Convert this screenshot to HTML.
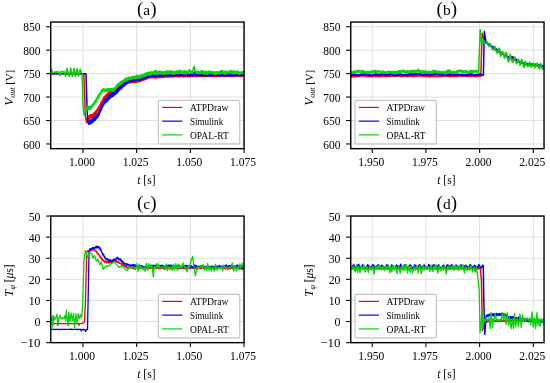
<!DOCTYPE html>
<html><head><meta charset="utf-8"><title>Figure</title>
<style>html,body{margin:0;padding:0;background:#fff;width:550px;height:383px;overflow:hidden}svg{display:block}</style>
</head><body>
<svg width="550" height="383" viewBox="0 0 550 383">
<style>
text{font-family:'Liberation Serif', 'DejaVu Serif', serif;fill:#000;stroke:none}
.tk{font-size:12.4px}
.lg{font-size:9.8px}
.lb{font-size:11.5px}
.tt{font-size:15.5px;stroke-width:0}
</style>
<rect width="550" height="383" fill="#fff"/>
<clipPath id="c00"><rect x="50.75" y="22.05" width="193.3" height="126.6"/></clipPath>
<line x1="82.97" y1="22.05" x2="82.97" y2="148.65" stroke="#dedede" stroke-width="1"/>
<line x1="136.66" y1="22.05" x2="136.66" y2="148.65" stroke="#dedede" stroke-width="1"/>
<line x1="190.36" y1="22.05" x2="190.36" y2="148.65" stroke="#dedede" stroke-width="1"/>
<line x1="244.05" y1="22.05" x2="244.05" y2="148.65" stroke="#dedede" stroke-width="1"/>
<line x1="50.75" y1="143.96" x2="244.05" y2="143.96" stroke="#dedede" stroke-width="1"/>
<line x1="50.75" y1="120.52" x2="244.05" y2="120.52" stroke="#dedede" stroke-width="1"/>
<line x1="50.75" y1="97.07" x2="244.05" y2="97.07" stroke="#dedede" stroke-width="1"/>
<line x1="50.75" y1="73.63" x2="244.05" y2="73.63" stroke="#dedede" stroke-width="1"/>
<line x1="50.75" y1="50.18" x2="244.05" y2="50.18" stroke="#dedede" stroke-width="1"/>
<line x1="50.75" y1="26.74" x2="244.05" y2="26.74" stroke="#dedede" stroke-width="1"/>
<path d="M50.75 73.8 L51.25 73.8 L51.75 73.8 L52.25 73.8 L52.75 73.8 L53.25 73.8 L53.75 73.8 L54.25 73.8 L54.75 73.8 L55.25 73.8 L55.75 73.8 L56.25 73.8 L56.75 73.8 L57.25 73.8 L57.75 73.8 L58.25 73.8 L58.75 73.8 L59.25 73.8 L59.75 73.8 L60.25 73.8 L60.75 73.8 L61.25 73.8 L61.75 73.8 L62.25 73.8 L62.75 73.8 L63.25 73.8 L63.75 73.8 L64.25 73.8 L64.75 73.8 L65.25 73.8 L65.75 73.8 L66.25 73.8 L66.75 73.8 L67.25 73.8 L67.75 73.8 L68.25 73.8 L68.75 73.8 L69.25 73.8 L69.75 73.8 L70.25 73.8 L70.75 73.8 L71.25 73.8 L71.75 73.8 L72.25 73.8 L72.75 73.8 L73.25 73.8 L73.75 73.8 L74.25 73.8 L74.75 73.8 L75.25 73.8 L75.75 73.8 L76.25 73.8 L76.75 73.8 L77.25 73.8 L77.75 73.8 L78.25 73.8 L78.75 73.8 L79.25 73.8 L79.75 73.8 L80.25 73.8 L80.75 73.8 L81.25 73.8 L81.75 73.8 L82.25 73.8 L82.75 73.8 L83.25 73.8 L83.75 73.8 L83.8 73.8 L84.25 85.73 L84.6 95 L84.75 99.13 L85.25 112.87 L85.4 117 L85.75 118.57 L86.25 119.99 L86.4 122.68 L86.75 119.21 L87.25 122.18 L87.75 117.76 L88.25 120.67 L88.75 115.97 L89.2 118.93 L89.25 115.44 L89.75 118.59 L90.25 114.83 L90.75 118.11 L91.25 114.8 L91.75 117.79 L92.25 114.47 L92.6 117.64 L92.75 114.27 L93.25 116.98 L93.75 113.11 L94.25 115.92 L94.75 112.26 L95.25 115.22 L95.5 111.57 L95.75 114.7 L96.25 110.52 L96.75 113.43 L97.25 109.11 L97.75 111.74 L98.25 107.55 L98.4 110.95 L98.75 106.85 L99.25 109.06 L99.75 104.83 L100.25 107.24 L100.75 102.74 L101.25 105.35 L101.3 101.98 L101.75 104.3 L102.25 100.36 L102.75 102.74 L103.25 98.36 L103.75 100.87 L104.2 96.58 L104.25 99.95 L104.75 96.21 L105.25 99.14 L105.75 95.17 L106.25 97.8 L106.3 94.44 L106.75 97.56 L107.25 93.77 L107.75 96.61 L108.25 92.94 L108.4 95.99 L108.75 92.51 L109.25 95.6 L109.75 91.92 L110.25 94.9 L110.4 91.14 L110.75 95.02 L111.25 91.06 L111.75 94.19 L111.8 90.89 L112.25 94.1 L112.75 90.43 L113.25 93.56 L113.75 90.12 L114.25 93.07 L114.4 89.77 L114.75 92.53 L115.25 88.96 L115.75 91.9 L116.25 88.55 L116.75 91.21 L117 87.54 L117.25 90.51 L117.75 86.81 L118.25 89.52 L118.75 85.88 L119.25 88.58 L119.7 85.27 L119.75 88 L120.25 84.63 L120.75 87.24 L121.25 83.65 L121.75 86.41 L122.25 82.88 L122.6 85.73 L122.75 82.37 L123.25 85.15 L123.75 81.88 L124.25 84.6 L124.75 81.64 L125.25 84.11 L125.5 81.33 L125.75 83.96 L126.25 80.96 L126.75 83.61 L127.25 80.55 L127.75 83.41 L128.25 80.49 L128.75 82.99 L129.2 80.31 L129.25 83.02 L129.75 80.09 L130.25 82.81 L130.75 80.06 L131.25 82.59 L131.75 80.25 L132.25 82.55 L132.75 80.11 L133.25 82.54 L133.75 80.24 L134.25 82.17 L134.75 79.89 L135 82.24 L135.25 79.83 L135.75 82.25 L136.25 79.96 L136.75 82.06 L137.25 80.18 L137.75 81.95 L138.25 80.01 L138.75 81.82 L139.25 79.8 L139.75 81.39 L140 79.37 L140.25 81.1 L140.75 79.33 L141.25 81.12 L141.75 78.97 L142.25 80.36 L142.75 78.61 L143.25 80.26 L143.75 78.25 L144.25 79.62 L144.75 78.12 L145 79.65 L145.25 78.16 L145.75 79.15 L146.25 77.74 L146.75 78.89 L147.25 77.44 L147.75 78.48 L148.25 77.22 L148.75 77.98 L149.25 76.83 L149.75 77.6 L150 76.61 L150.25 77.79 L150.75 76.88 L151.25 77.72 L151.75 76.58 L152.25 77.75 L152.75 76.7 L153.25 77.58 L153.75 76.8 L154.25 78.01 L154.75 77 L155.25 78.2 L155.75 76.74 L155.8 77.85 L156.25 76.61 L156.75 77.86 L157.25 76.82 L157.75 77.56 L158.25 76.85 L158.75 77.74 L159.25 76.44 L159.75 77.64 L160 76.65 L160.25 77.7 L160.75 76.27 L161.25 77.56 L161.75 76.45 L162.25 77.27 L162.75 76.16 L163.25 77.48 L163.75 76.14 L164.25 77.15 L164.75 76.29 L165.25 76.97 L165.75 76.11 L166.25 76.97 L166.75 76.05 L167.25 77.07 L167.75 76 L168.25 76.97 L168.75 76.07 L169.25 77 L169.75 75.97 L170 76.75 L170.25 75.93 L170.75 76.84 L171.25 75.61 L171.75 76.86 L172.25 76.01 L172.75 76.93 L173.25 75.64 L173.75 76.68 L174.25 75.86 L174.75 76.82 L175.25 75.84 L175.75 76.58 L176.25 75.92 L176.75 76.66 L177.25 75.56 L177.75 76.59 L178.25 75.9 L178.75 76.96 L179.25 75.49 L179.75 76.64 L180.25 75.72 L180.75 76.49 L181.25 75.36 L181.75 76.45 L182.25 75.84 L182.75 76.51 L183.25 75.56 L183.75 76.85 L184.25 75.47 L184.75 76.8 L185.25 75.52 L185.75 76.54 L186.25 75.55 L186.75 76.39 L187.25 75.35 L187.75 76.79 L188.25 75.72 L188.75 76.55 L189.25 75.63 L189.75 76.76 L190.25 75.4 L190.75 76.65 L191.25 75.59 L191.75 76.25 L192.25 75.3 L192.75 76.66 L193.25 75.57 L193.75 76.3 L194.25 75.64 L194.75 76.7 L195.25 75.34 L195.75 76.4 L196.25 75.27 L196.75 76.38 L197.25 75.24 L197.75 76.43 L198.25 75.42 L198.75 76.42 L199.25 75.18 L199.75 76.44 L200 75.51 L200.25 76.17 L200.75 75.48 L201.25 76.54 L201.75 75.24 L202.25 76.64 L202.75 75.6 L203.25 76.5 L203.75 75.61 L204.25 76.32 L204.75 75.44 L205.25 76.59 L205.75 75.09 L206.25 76.61 L206.75 75.26 L207.25 76.58 L207.75 75.48 L208.25 76.53 L208.75 75.31 L209.25 76.37 L209.75 75.61 L210.25 76.15 L210.75 75.21 L211.25 76.68 L211.75 75.62 L212.25 76.23 L212.75 75.62 L213.25 76.23 L213.75 75.62 L214.25 76.6 L214.75 75.1 L215.25 76.11 L215.75 75.26 L216.25 76.56 L216.75 75.48 L217.25 76.25 L217.75 75.52 L218.25 76.29 L218.75 75.22 L219.25 76.21 L219.75 75.65 L220.25 76.53 L220.75 75.33 L221.25 76.24 L221.75 75.63 L222.25 76.32 L222.75 75.21 L223.25 76.29 L223.75 75.46 L224.25 76.5 L224.75 75.16 L225.25 76.66 L225.75 75.42 L226.25 76.13 L226.75 75.55 L227.25 76.66 L227.75 75.5 L228.25 76.11 L228.75 75.35 L229.25 76.39 L229.75 75.57 L230.25 76.35 L230.75 75.11 L231.25 76.54 L231.75 75.59 L232.25 76.34 L232.75 75.08 L233.25 76.58 L233.75 75.48 L234.25 76.58 L234.75 75 L235.25 76.28 L235.75 75.22 L236.25 76.06 L236.75 75.41 L237.25 76.27 L237.75 75.03 L238.25 76.07 L238.75 75.47 L239.25 76.34 L239.75 75.16 L240.25 76.43 L240.75 75.1 L241.25 76.39 L241.75 75.35 L242.25 75.97 L242.75 75.3 L243.25 76.38 L243.75 75.51 L244.25 76.39 L244.5 75.48" fill="none" stroke="#ff0000" stroke-width="1.5" stroke-linejoin="round" stroke-linecap="butt" clip-path="url(#c00)"/>
<path d="M50.75 73.8 L51.25 73.8 L51.75 73.8 L52.25 73.8 L52.75 73.8 L53.25 73.8 L53.75 73.8 L54.25 73.8 L54.75 73.8 L55.25 73.8 L55.75 73.8 L56.25 73.8 L56.75 73.8 L57.25 73.8 L57.75 73.8 L58.25 73.8 L58.75 73.8 L59.25 73.8 L59.75 73.8 L60.25 73.8 L60.75 73.8 L61.25 73.8 L61.75 73.8 L62.25 73.8 L62.75 73.8 L63.25 73.8 L63.75 73.8 L64.25 73.8 L64.75 73.8 L65.25 73.8 L65.75 73.8 L66.25 73.8 L66.75 73.8 L67.25 73.8 L67.75 73.8 L68.25 73.8 L68.75 73.8 L69.25 73.8 L69.75 73.8 L70.25 73.8 L70.75 73.8 L71.25 73.8 L71.75 73.8 L72.25 73.8 L72.75 73.8 L73.25 73.8 L73.75 73.8 L74.25 73.8 L74.75 73.8 L75.25 73.8 L75.75 73.8 L76.25 73.8 L76.75 73.8 L77.25 73.8 L77.75 73.8 L78.25 73.8 L78.75 73.8 L79.25 73.8 L79.75 73.8 L80.25 73.8 L80.75 73.8 L81.25 73.8 L81.75 73.8 L82.25 73.8 L82.75 73.8 L83.25 73.8 L83.75 73.8 L84.25 73.8 L84.75 73.8 L85.25 73.8 L85.75 73.8 L86 73.8 L86.25 81.99 L86.75 98.36 L86.8 100 L87.25 111.81 L87.6 121 L87.75 121.45 L88.25 122.95 L88.6 124 L88.75 122.9 L89.2 124.3 L89.25 120.3 L89.75 123.91 L90.25 120.39 L90.75 123.62 L91.25 119.54 L91.75 123.01 L92.25 119.35 L92.6 122.18 L92.75 118.86 L93.25 122.01 L93.75 117.82 L94.25 120.78 L94.75 117.04 L95.25 120.29 L95.5 116.87 L95.75 119.44 L96.25 115.65 L96.75 118.37 L97.25 114.59 L97.75 117.33 L98.25 113.22 L98.4 116.36 L98.75 112.38 L99.25 114.89 L99.75 110.45 L100.25 112.03 L100.75 107.72 L101.2 110.28 L101.25 107.02 L101.75 109.05 L102.25 104.49 L102.75 106.73 L103.25 102.25 L103.75 105.07 L104 100.72 L104.25 104.03 L104.75 99.85 L105.25 102.92 L105.75 99.05 L106.25 102.17 L106.3 98.72 L106.75 101.58 L107.25 97.73 L107.75 100.55 L108.25 96.54 L108.4 99.86 L108.75 95.69 L109.25 98.97 L109.75 94.98 L110.25 97.91 L110.4 94.58 L110.75 97.67 L111.25 93.48 L111.75 96.74 L112 92.9 L112.25 96.73 L112.75 92.68 L113.25 96.13 L113.75 92.53 L114.2 94.99 L114.25 91.77 L114.75 94.86 L115.25 91.51 L115.75 93.87 L116.25 90.16 L116.75 93.52 L116.9 89.96 L117.25 92.52 L117.75 89.13 L118.25 91.63 L118.75 87.92 L119.25 90.3 L119.7 87.14 L119.75 89.67 L120.25 86.86 L120.75 89.27 L121.25 85.72 L121.75 88.32 L122.25 84.79 L122.6 87.14 L122.75 84.54 L123.25 86.38 L123.75 83.5 L124.25 86.09 L124.75 82.3 L125.25 84.72 L125.5 82.05 L125.75 84.65 L126.25 81.17 L126.75 83.68 L127.25 80.44 L127.75 82.68 L128.25 79.96 L128.4 82.31 L128.75 79.74 L129.25 81.86 L129.75 79.4 L130.25 81.77 L130.75 78.69 L131 81.34 L131.25 78.69 L131.75 81.12 L132.25 78.59 L132.75 81.06 L133.25 78.72 L133.75 80.86 L134.25 78.52 L134.75 80.56 L135 78.59 L135.25 80.72 L135.75 78.66 L136.25 80.79 L136.75 78.73 L137.25 80.52 L137.75 78.56 L138.25 80.09 L138.75 77.95 L139.25 80.37 L139.75 78.16 L140 80.33 L140.25 77.9 L140.75 79.77 L141.25 77.95 L141.75 79.48 L142.25 77.66 L142.75 79.02 L143.25 77.24 L143.75 78.84 L144.25 76.87 L144.75 78.15 L145 76.69 L145.25 77.99 L145.75 76.36 L146.25 78.01 L146.75 76.03 L147.25 77.61 L147.75 75.71 L148.25 77.11 L148.75 75.5 L149.25 76.99 L149.75 75.19 L150 76.57 L150.25 74.88 L150.75 76.87 L151.25 75.17 L151.75 76.28 L152.25 74.98 L152.75 76.49 L153.25 74.86 L153.75 76.64 L154.25 75.02 L154.75 76.4 L155.25 75.05 L155.75 76.06 L156.25 75.1 L156.75 76.41 L157.25 74.5 L157.75 76.19 L158.25 74.68 L158.75 76.03 L159.25 74.56 L159.75 75.89 L160 74.72 L160.25 76.03 L160.75 74.26 L161.25 75.74 L161.75 74.32 L162.25 75.99 L162.75 74.59 L163.25 75.82 L163.75 74.45 L164.25 75.98 L164.75 74.28 L165.25 75.54 L165.75 74.77 L166.25 75.65 L166.75 74.27 L167.25 75.91 L167.75 74.72 L168.25 75.46 L168.75 74.21 L169.25 75.94 L169.75 74.03 L170 75.47 L170.25 74.32 L170.75 75.93 L171.25 73.97 L171.75 75.61 L172.25 74.42 L172.75 75.72 L173.25 74.25 L173.75 76.11 L174.25 74.64 L174.75 75.56 L175.25 74.16 L175.75 75.64 L176.25 74.02 L176.75 75.44 L177.25 74.35 L177.75 76.11 L178.25 74.14 L178.75 75.55 L179.25 74.4 L179.75 75.54 L180.25 73.91 L180.75 75.43 L181.25 74.55 L181.75 75.41 L182.25 74.42 L182.75 75.6 L183.25 74.4 L183.75 75.63 L184.25 74.05 L184.75 75.43 L185.25 74.09 L185.75 75.17 L186.25 73 L186.75 74.55 L187.25 74.07 L187.75 75.66 L188.25 73.88 L188.75 75.63 L189.25 74.48 L189.75 76.05 L190.25 74.1 L190.75 75.44 L191.25 74.06 L191.75 75.36 L192.25 74.05 L192.75 76 L193.25 74.42 L193.75 75.05 L194.25 72.23 L194.75 73.39 L195.25 73.22 L195.75 75.56 L196.25 74.32 L196.75 75.78 L197.25 73.88 L197.75 75.76 L198.25 74.35 L198.75 75.35 L199.25 74.05 L199.75 75.74 L200.25 74.06 L200.75 75.91 L201.25 74 L201.75 75.81 L202.25 74.25 L202.75 75.3 L203.25 73.98 L203.75 75.5 L204.25 73.98 L204.75 75.29 L205.25 74.05 L205.75 75.69 L206.25 74.04 L206.75 75.78 L207.25 74.13 L207.75 75.63 L208.25 74.03 L208.75 75.84 L209.25 73.83 L209.75 75.89 L210.25 74.22 L210.75 75.89 L211.25 74.24 L211.75 75.47 L212.25 74.05 L212.75 75.87 L213.25 74.23 L213.75 75.57 L214.25 73.86 L214.75 75.33 L215.25 74.13 L215.75 75.59 L216.25 74.39 L216.75 75.27 L217.25 74.06 L217.75 75.26 L218.25 73.91 L218.75 75.6 L219.25 74.41 L219.75 75.33 L220.25 73.85 L220.75 75.8 L221.25 74.1 L221.75 75.22 L222.25 74.33 L222.75 76 L223.25 74.37 L223.75 75.92 L224.25 74.27 L224.75 75.51 L225.25 74.31 L225.75 75.63 L226.25 73.83 L226.75 75.54 L227.25 74.44 L227.75 75.71 L228.25 74.1 L228.75 75.68 L229.25 74.34 L229.75 75.36 L230.25 74.13 L230.75 75.74 L231.25 73.8 L231.75 75.54 L232.25 73.81 L232.75 75.45 L233.25 74.26 L233.75 75.4 L234.25 74.29 L234.75 75.71 L235.25 74.21 L235.75 75.24 L236.25 73.98 L236.75 75.81 L237.25 74.17 L237.75 75.22 L238.25 74.07 L238.75 75.45 L239.25 74.08 L239.75 75.54 L240.25 74.33 L240.75 75.51 L241.25 74.45 L241.75 75.86 L242.25 74.36 L242.75 75.66 L243.25 73.77 L243.75 75.15 L244.25 73.76 L244.5 75.52" fill="none" stroke="#0000ff" stroke-width="1.5" stroke-linejoin="round" stroke-linecap="butt" clip-path="url(#c00)"/>
<path d="M50.75 70.5 L51.6 69.6 L52.6 72.4 L53.6 73 L54.6 71.8 L55.6 72.6 L56.6 71.6 L57.8 72.4 L58.8 71.8 L59.9 75.8 L61 71.8 L62.3 71.2 L63.3 72.6 L64.3 71.5 L65.5 76.3 L67 68.4 L68.1 72.2 L69.2 76.4 L70.7 68.2 L71.6 73 L72.3 76.4 L74.1 68.3 L75.3 76.4 L76.2 72 L77.2 68.6 L78.7 76 L79.6 72.4 L80.3 69.2 L81.4 72.8 L81.9 73.4 L82.3 79.99 L82.8 97.86 L83 105.07 L83.3 107.87 L83.8 112.93 L84 115.02 L84.3 114.05 L84.8 113.08 L85.1 110.23 L85.3 112.7 L85.8 108.49 L86.3 111.05 L86.8 107.43 L87.3 109.46 L87.4 105.75 L87.8 108.65 L88.3 106.4 L88.8 109.48 L89.3 107.45 L89.7 109.32 L89.8 106.6 L90.3 109.37 L90.8 105.89 L91.3 108.45 L91.5 105.58 L91.8 107.35 L92.3 104.73 L92.8 106.34 L93.2 103.73 L93.3 105.09 L93.8 102.55 L94.3 104.52 L94.8 101.08 L95.3 102.82 L95.8 100.28 L95.9 102.35 L96.3 98.83 L96.8 101.04 L97.3 97.02 L97.8 98.07 L98 95.28 L98.3 98.17 L98.8 94.96 L99.3 96.24 L99.8 93.16 L100 94.52 L100.3 92.31 L100.8 94.23 L101.3 90.2 L101.8 92.45 L102.1 89.61 L102.3 91.59 L102.8 89.19 L103.3 91.21 L103.8 88.76 L104 91.11 L104.3 88.97 L104.8 91.7 L105.3 89.15 L105.8 91.06 L106.3 89.17 L106.8 91.45 L107.3 88.85 L107.8 91.64 L108.3 88.64 L108.8 91.25 L109.3 88.79 L109.8 91.14 L110.3 88.6 L110.7 90.76 L110.8 88.4 L111.3 90.52 L111.8 88.69 L112.3 91.15 L112.8 88.7 L113.3 91.23 L113.8 88.57 L114 91.18 L114.3 87.79 L114.8 89.72 L115.3 87.4 L115.8 88.93 L116.3 85.73 L116.8 87.02 L116.9 84.74 L117.3 87.34 L117.8 84.01 L118.3 85.77 L118.8 83.33 L119.3 85.23 L119.7 83.18 L119.8 84.82 L120.3 81.95 L120.8 84.23 L121.3 81.17 L121.8 83.26 L122.3 80.79 L122.6 82.97 L122.8 80.43 L123.3 82.45 L123.8 80.09 L124.3 81.54 L124.8 79.1 L125.3 81.39 L125.5 78.08 L125.8 81.26 L126.3 78.76 L126.8 80.57 L127.3 77.72 L127.8 80.04 L128.3 77.92 L128.4 79.68 L128.8 76.95 L129.3 79.81 L129.8 77.37 L130.3 79.63 L130.8 77.39 L131.3 79.12 L131.8 76.79 L132.3 79.06 L132.6 76.48 L132.8 78.43 L133.3 76.54 L133.8 78.19 L134.3 76.27 L134.8 78.61 L135 76.23 L135.3 78.46 L135.8 75.97 L136.3 77.86 L136.8 75.16 L137.3 78.51 L137.8 75.58 L138.3 77.75 L138.8 75.87 L139.3 78.43 L139.8 75.57 L140 77.92 L140.3 75.29 L140.8 77.97 L141.3 74.8 L141.8 77.22 L142.3 75.15 L142.8 76.44 L143.3 74.37 L143.8 76.71 L144.3 73.41 L144.8 76.48 L145 73.7 L145.3 76.24 L145.8 73.27 L146.3 75.6 L146.8 72.49 L147.3 74.8 L147.8 72.7 L148.3 74.89 L148.8 72.28 L149.3 75.19 L149.8 73.08 L150 74.87 L150.3 72.11 L150.8 75.1 L151.3 71.68 L151.8 74.29 L152.3 72.39 L152.8 73.51 L153.3 71.45 L153.8 73.46 L154.3 71.58 L154.8 74 L155.3 70.61 L155.8 72.9 L156.3 70.48 L156.8 73.97 L157.3 71.49 L157.8 74.43 L158.3 72.02 L158.8 73.89 L159.3 70.92 L159.8 73.99 L160 71 L160.3 73.37 L160.8 71.64 L161.3 74.18 L161.8 71.79 L162.3 74 L162.8 72.22 L163.3 74.23 L163.8 71.54 L164.3 74.39 L164.8 71.83 L165.3 73.81 L165.8 71.44 L166.3 73.98 L166.8 70.8 L167.3 73.91 L167.8 71.32 L168.3 73.85 L168.8 71.3 L169.3 73.42 L169.8 70.66 L170 73.22 L170.3 70.58 L170.8 72.8 L171.3 71.36 L171.8 74.06 L172.3 71.31 L172.8 73.62 L173.3 71.25 L173.8 74.4 L174.3 71.81 L174.8 73.89 L175.3 71.78 L175.8 73.45 L176.3 70.84 L176.8 73.09 L177.3 71.4 L177.8 73.75 L178.3 70.67 L178.8 73.42 L179.3 70.34 L179.8 73.31 L180.3 70.39 L180.8 73.01 L181.3 71.12 L181.8 73.12 L182.3 70.9 L182.8 73.41 L183.3 71.84 L183.8 73.76 L184.3 70.74 L184.8 74.21 L185.3 71.5 L185.8 72.94 L186.3 71.06 L186.8 73.74 L187.3 71.71 L187.8 72.87 L188.3 71.1 L188.8 72.5 L189.3 69.43 L189.8 71.2 L190.3 70.78 L190.8 72.71 L191.3 71 L191.8 73.05 L192.3 70.99 L192.8 72.62 L193.3 67.73 L193.8 68.23 L194.3 66.27 L194.8 71.39 L195.3 70.86 L195.8 73.49 L196.3 71.86 L196.8 73.02 L197.3 71.18 L197.8 73.55 L198.3 71.17 L198.8 73.74 L199.3 71.96 L199.8 73.28 L200.3 71.52 L200.8 73.24 L201.3 70.84 L201.8 72.64 L202.3 70.53 L202.8 72.44 L203.3 71.38 L203.8 73.63 L204.3 71.34 L204.8 74.16 L205.3 71.36 L205.8 73.56 L206.3 71.44 L206.8 74.35 L207.3 72.26 L207.8 74.38 L208.3 71.05 L208.8 73.26 L209.3 71.3 L209.8 72.85 L210.3 71.19 L210.8 73.02 L211.3 71.72 L211.8 72.92 L212.3 71.54 L212.8 73.6 L213.3 71.79 L213.8 73.84 L214.3 71.91 L214.8 74.6 L215.3 72.1 L215.8 74.48 L216.3 71.72 L216.8 73.94 L217.3 71.84 L217.8 73.68 L218.3 72 L218.8 73.15 L219.3 71.56 L219.8 73.82 L220.3 70.96 L220.8 72.97 L221.3 70.86 L221.8 72.24 L222.3 70.2 L222.8 73.29 L223.3 71.38 L223.8 73.91 L224.3 71.55 L224.8 74.25 L225.3 71 L225.8 74.02 L226.3 71.19 L226.8 73.47 L227.3 72.15 L227.8 73.48 L228.3 71.28 L228.8 73.09 L229.3 71.62 L229.8 72.78 L230.3 70.62 L230.8 72.7 L231.3 70.42 L231.8 73.11 L232.3 70.98 L232.8 73.63 L233.3 71.04 L233.8 73.73 L234.3 71.07 L234.8 74.04 L235.3 71.37 L235.8 73.21 L236.3 71.4 L236.8 72.86 L237.3 70.98 L237.8 74.04 L238.3 71.73 L238.8 74.03 L239.3 71.92 L239.8 74.22 L240.3 72.06 L240.8 73.29 L241.3 72.27 L241.8 73.83 L242.3 71.45 L242.8 73.43 L243.3 71.48 L243.8 74 L244.3 71.47 L244.5 73.57" fill="none" stroke="#0ad20a" stroke-width="1.5" stroke-linejoin="round" stroke-linecap="butt" clip-path="url(#c00)"/>
<rect x="50.75" y="22.05" width="193.3" height="126.6" fill="none" stroke="#000" stroke-width="1.4"/>
<line x1="82.97" y1="148.65" x2="82.97" y2="153.05" stroke="#000" stroke-width="1.1"/>
<text x="81.97" y="165.95" class="tk" text-anchor="middle" textLength="26" lengthAdjust="spacingAndGlyphs">1.000</text>
<line x1="136.66" y1="148.65" x2="136.66" y2="153.05" stroke="#000" stroke-width="1.1"/>
<text x="135.66" y="165.95" class="tk" text-anchor="middle" textLength="26" lengthAdjust="spacingAndGlyphs">1.025</text>
<line x1="190.36" y1="148.65" x2="190.36" y2="153.05" stroke="#000" stroke-width="1.1"/>
<text x="189.36" y="165.95" class="tk" text-anchor="middle" textLength="26" lengthAdjust="spacingAndGlyphs">1.050</text>
<line x1="244.05" y1="148.65" x2="244.05" y2="153.05" stroke="#000" stroke-width="1.1"/>
<text x="243.05" y="165.95" class="tk" text-anchor="middle" textLength="26" lengthAdjust="spacingAndGlyphs">1.075</text>
<line x1="46.15" y1="143.96" x2="50.75" y2="143.96" stroke="#000" stroke-width="1.1"/>
<text x="40.45" y="148.56" class="tk" text-anchor="end" textLength="17.2" lengthAdjust="spacingAndGlyphs">600</text>
<line x1="46.15" y1="120.52" x2="50.75" y2="120.52" stroke="#000" stroke-width="1.1"/>
<text x="40.45" y="125.12" class="tk" text-anchor="end" textLength="17.2" lengthAdjust="spacingAndGlyphs">650</text>
<line x1="46.15" y1="97.07" x2="50.75" y2="97.07" stroke="#000" stroke-width="1.1"/>
<text x="40.45" y="101.67" class="tk" text-anchor="end" textLength="17.2" lengthAdjust="spacingAndGlyphs">700</text>
<line x1="46.15" y1="73.63" x2="50.75" y2="73.63" stroke="#000" stroke-width="1.1"/>
<text x="40.45" y="78.23" class="tk" text-anchor="end" textLength="17.2" lengthAdjust="spacingAndGlyphs">750</text>
<line x1="46.15" y1="50.18" x2="50.75" y2="50.18" stroke="#000" stroke-width="1.1"/>
<text x="40.45" y="54.78" class="tk" text-anchor="end" textLength="17.2" lengthAdjust="spacingAndGlyphs">800</text>
<line x1="46.15" y1="26.74" x2="50.75" y2="26.74" stroke="#000" stroke-width="1.1"/>
<text x="40.45" y="31.34" class="tk" text-anchor="end" textLength="17.2" lengthAdjust="spacingAndGlyphs">850</text>
<rect x="158.4" y="100.3" width="81.3" height="43.6" rx="1.2" fill="#fff" fill-opacity="0.85" stroke="#c4c4c4" stroke-width="1.15"/>
<line x1="162.2" y1="107.4" x2="182.4" y2="107.4" stroke="#ff0000" stroke-width="1.2"/>
<text x="189.9" y="111" class="lg" textLength="38.5" lengthAdjust="spacingAndGlyphs">ATPDraw</text>
<line x1="162.2" y1="121.15" x2="182.4" y2="121.15" stroke="#0000ff" stroke-width="1.2"/>
<text x="189.9" y="124.75" class="lg" textLength="33.3" lengthAdjust="spacingAndGlyphs">Simulink</text>
<line x1="162.2" y1="134.9" x2="182.4" y2="134.9" stroke="#0ad20a" stroke-width="1.2"/>
<text x="189.9" y="138.5" class="lg" textLength="39" lengthAdjust="spacingAndGlyphs">OPAL-RT</text>
<text x="146.4" y="183.65" class="lb" text-anchor="middle"><tspan font-style="italic">t</tspan> [s]</text>
<text x="146.8" y="15.15" class="tt" text-anchor="middle"><tspan font-size="19">(</tspan>a<tspan font-size="19">)</tspan></text>
<text transform="translate(13.2 87.75) rotate(-90)" class="lb" text-anchor="middle"><tspan font-style="italic" font-size="13">V</tspan><tspan font-style="italic" font-size="8" dy="2.2">out</tspan><tspan dy="-2.2" font-size="10.8"> [V]</tspan></text>
<clipPath id="c10"><rect x="350.75" y="22.05" width="193.3" height="126.6"/></clipPath>
<line x1="372.23" y1="22.05" x2="372.23" y2="148.65" stroke="#dedede" stroke-width="1"/>
<line x1="425.92" y1="22.05" x2="425.92" y2="148.65" stroke="#dedede" stroke-width="1"/>
<line x1="479.62" y1="22.05" x2="479.62" y2="148.65" stroke="#dedede" stroke-width="1"/>
<line x1="533.31" y1="22.05" x2="533.31" y2="148.65" stroke="#dedede" stroke-width="1"/>
<line x1="350.75" y1="143.96" x2="544.05" y2="143.96" stroke="#dedede" stroke-width="1"/>
<line x1="350.75" y1="120.52" x2="544.05" y2="120.52" stroke="#dedede" stroke-width="1"/>
<line x1="350.75" y1="97.07" x2="544.05" y2="97.07" stroke="#dedede" stroke-width="1"/>
<line x1="350.75" y1="73.63" x2="544.05" y2="73.63" stroke="#dedede" stroke-width="1"/>
<line x1="350.75" y1="50.18" x2="544.05" y2="50.18" stroke="#dedede" stroke-width="1"/>
<line x1="350.75" y1="26.74" x2="544.05" y2="26.74" stroke="#dedede" stroke-width="1"/>
<path d="M350.75 76.17 L351.25 76.9 L351.75 76.09 L352.25 76.61 L352.75 76.05 L353.25 76.99 L353.75 76.04 L354.25 76.68 L354.75 75.66 L355.25 76.62 L355.75 75.85 L356.25 76.62 L356.75 75.8 L357.25 76.25 L357.75 75.73 L358.25 76.4 L358.75 75.33 L359.25 76.27 L359.75 75.29 L360.25 76.22 L360.75 75.09 L361.25 75.97 L361.75 75.2 L362.25 76.03 L362.75 75.31 L363.25 76.05 L363.75 75.32 L364.25 76.17 L364.75 75.25 L365.25 76.19 L365.75 75.49 L366.25 76.29 L366.75 75.74 L367.25 76.59 L367.75 76.08 L368.25 76.58 L368.75 76.03 L369.25 76.65 L369.75 75.97 L370.25 76.5 L370.75 76.15 L371.25 76.65 L371.75 75.93 L372.25 76.63 L372.75 75.72 L373.25 76.46 L373.75 75.69 L374.25 76.13 L374.75 75.56 L375.25 76.58 L375.75 75.69 L376.25 76.64 L376.75 75.8 L377.25 76.53 L377.75 75.89 L378.25 76.74 L378.75 76.05 L379.25 76.49 L379.75 75.9 L380.25 76.5 L380.75 76.01 L381.25 76.64 L381.75 75.74 L382.25 76.27 L382.75 75.74 L383.25 76.22 L383.75 75.65 L384.25 76.28 L384.75 75.6 L385.25 76.46 L385.75 75.73 L386.25 76.59 L386.75 75.82 L387.25 76.33 L387.75 75.66 L388.25 76.37 L388.75 75.5 L389.25 76.34 L389.75 75.46 L390.25 76.1 L390.75 75.62 L391.25 76.18 L391.75 75.21 L392.25 76.05 L392.75 75.6 L393.25 76.23 L393.75 75.46 L394.25 76.15 L394.75 75.33 L395.25 76.12 L395.75 75.26 L396.25 76.13 L396.75 75.29 L397.25 76.16 L397.75 75.21 L398.25 76.13 L398.75 75.14 L399.25 76.17 L399.75 75.67 L400.25 76.4 L400.75 75.67 L401.25 76.44 L401.75 75.7 L402.25 76.39 L402.75 75.6 L403.25 76.08 L403.75 75.33 L404.25 76.01 L404.75 75.17 L405.25 76.01 L405.75 75.49 L406.25 76.03 L406.75 75.68 L407.25 76.58 L407.75 75.66 L408.25 76.39 L408.75 75.52 L409.25 76.2 L409.75 75.26 L410.25 76.18 L410.75 75.54 L411.25 76.27 L411.75 75.5 L412.25 76.45 L412.75 75.84 L413.25 76.6 L413.75 75.88 L414.25 76.53 L414.75 75.53 L415.25 76.08 L415.75 75.27 L416.25 76.12 L416.75 75.5 L417.25 76.05 L417.75 75.12 L418.25 76.2 L418.75 75.31 L419.25 76.01 L419.75 75.34 L420.25 76.12 L420.75 75.6 L421.25 76.08 L421.75 75.41 L422.25 76.2 L422.75 75.51 L423.25 76.16 L423.75 75.36 L424.25 76.37 L424.75 75.49 L425.25 76.45 L425.75 75.66 L426.25 76.57 L426.75 75.68 L427.25 76.39 L427.75 75.86 L428.25 76.76 L428.75 76.07 L429.25 76.72 L429.75 76.02 L430.25 76.81 L430.75 75.91 L431.25 76.55 L431.75 75.95 L432.25 76.56 L432.75 75.73 L433.25 76.58 L433.75 75.74 L434.25 76.55 L434.75 75.85 L435.25 76.55 L435.75 75.88 L436.25 76.56 L436.75 75.96 L437.25 76.72 L437.75 75.71 L438.25 76.58 L438.75 75.64 L439.25 76.38 L439.75 75.6 L440.25 76.53 L440.75 75.59 L441.25 76.52 L441.75 75.61 L442.25 76.08 L442.75 75.47 L443.25 76.3 L443.75 75.3 L444.25 76.17 L444.75 75.33 L445.25 76.13 L445.75 75.47 L446.25 75.95 L446.75 75.36 L447.25 76.23 L447.75 75.54 L448.25 76.26 L448.75 75.52 L449.25 76.5 L449.75 75.85 L450.25 76.65 L450.75 75.73 L451.25 76.32 L451.75 75.57 L452.25 76.34 L452.75 75.63 L453.25 76.4 L453.75 75.64 L454.25 76.35 L454.75 75.69 L455.25 76.36 L455.75 75.64 L456.25 76.36 L456.75 75.6 L457.25 76.23 L457.75 75.36 L458.25 75.86 L458.75 75.4 L459.25 76 L459.75 75.28 L460.25 75.9 L460.75 75.24 L461.25 76.3 L461.75 75.61 L462.25 76.19 L462.75 75.61 L463.25 76.06 L463.75 75.23 L464.25 76.03 L464.75 75.42 L465.25 76.35 L465.75 75.47 L466.25 76.18 L466.75 75.55 L467.25 76.34 L467.75 75.27 L468.25 76.21 L468.75 75.62 L469.25 76.33 L469.75 75.6 L470.25 76.26 L470.75 76.02 L471.25 76.49 L471.75 75.79 L472.25 76.38 L472.75 75.52 L473.25 76.05 L473.75 75.67 L474.25 76.42 L474.75 75.61 L475.25 76.65 L475.75 75.68 L476.25 76.67 L476.75 75.5 L477.25 76.39 L477.75 75.41 L478.25 76.25 L478.75 75.56 L479.25 76.12 L479.75 75.39 L480.25 76.22 L480.75 75.32 L480.8 76.23 L481.25 60.99 L481.6 49.93 L481.75 45.93 L482.2 33.44 L482.25 33.47 L482.75 35.72 L483.2 37.55 L483.25 37.63 L483.75 38.83 L484.25 40.82 L484.6 41.1 L484.75 42.01 L485.25 41.59 L485.75 42.7 L486.25 42.46 L486.75 43.36 L487.25 43.29 L487.75 44.02 L488.25 43.79 L488.75 44.75 L489.25 44.55 L489.75 45.53 L490 45.1 L490.25 46.02 L490.75 45.64 L491.25 46.7 L491.75 46.42 L492.25 47.36 L492.75 47.13 L493.25 48.22 L493.75 47.9 L494.25 49.07 L494.75 48.82 L495 49.68 L495.25 49.19 L495.75 50.04 L496.25 49.89 L496.75 50.67 L497.25 50.56 L497.75 51.49 L498.25 51.1 L498.75 51.81 L499.25 51.57 L499.75 52.71 L500 52.19 L500.25 52.91 L500.75 52.42 L501.25 53.34 L501.75 53.33 L502.25 53.95 L502.75 53.78 L503.25 54.67 L503.75 54.21 L504.25 55.18 L504.75 54.82 L505 55.56 L505.25 55.19 L505.75 55.84 L506.25 55.75 L506.75 56.62 L507.25 56.24 L507.75 57.17 L508.25 56.96 L508.75 57.87 L509.25 57.38 L509.75 58.41 L510 57.96 L510.25 58.52 L510.75 58.17 L511.25 58.99 L511.75 58.59 L512.25 59.2 L512.75 58.88 L513.25 59.69 L513.75 59.25 L514.25 60.22 L514.75 59.87 L515 60.56 L515.25 60.05 L515.75 60.88 L516.25 60.28 L516.75 61.32 L517.25 60.72 L517.75 61.8 L518.25 61.19 L518.75 62.02 L519.25 61.83 L519.75 62.59 L520 62.3 L520.25 62.86 L520.75 62.55 L521.25 63.17 L521.75 62.71 L522.25 63.52 L522.75 63.03 L523.25 63.86 L523.75 63.63 L524.25 64.47 L524.75 63.74 L525 64.67 L525.25 64.1 L525.75 64.79 L526.25 64.09 L526.75 64.87 L527.25 64.3 L527.75 64.9 L528.25 64.4 L528.75 65.17 L529.25 64.53 L529.75 65.36 L530 64.66 L530.25 65.39 L530.75 64.82 L531.25 65.38 L531.75 64.96 L532.25 65.47 L532.75 64.97 L533.25 65.55 L533.75 64.79 L534.25 65.59 L534.75 65.11 L535 65.65 L535.25 65.08 L535.75 65.83 L536.25 65.21 L536.75 65.96 L537.25 65.27 L537.75 66.19 L538.25 65.56 L538.75 66.15 L539.25 65.71 L539.75 66.49 L540 65.68 L540.25 66.76 L540.75 66.04 L541.25 66.81 L541.75 66.23 L542.25 67.2 L542.75 66.61 L543.25 67.39 L543.75 66.97 L544.25 67.68 L544.75 67.24 L545 67.95" fill="none" stroke="#ff0000" stroke-width="1.5" stroke-linejoin="round" stroke-linecap="butt" clip-path="url(#c10)"/>
<path d="M350.75 74.23 L351.25 75.47 L351.75 74.59 L352.25 75.21 L352.75 74.33 L353.25 75.27 L353.75 74.49 L354.25 75.12 L354.75 74.21 L355.25 75.51 L355.75 74.72 L356.25 75.54 L356.75 75.03 L357.25 75.51 L357.75 74.7 L358.25 75.46 L358.75 74.67 L359.25 75.51 L359.75 74.54 L360.25 75.26 L360.75 74.16 L361.25 75.07 L361.75 74.12 L362.25 74.88 L362.75 73.94 L363.25 74.63 L363.75 73.73 L364.25 74.67 L364.75 73.92 L365.25 74.62 L365.75 73.9 L366.25 74.77 L366.75 74.01 L367.25 74.74 L367.75 74.27 L368.25 75.24 L368.75 74.55 L369.25 75.48 L369.75 74.7 L370.25 75.91 L370.75 74.76 L371.25 75.86 L371.75 75.19 L372.25 75.75 L372.75 74.5 L373.25 75.48 L373.75 74.19 L374.25 75.07 L374.75 74.16 L375.25 74.91 L375.75 73.6 L376.25 74.73 L376.75 74.25 L377.25 74.95 L377.75 74.09 L378.25 75.24 L378.75 74.17 L379.25 75.15 L379.75 74.24 L380.25 75.19 L380.75 74.15 L381.25 75.15 L381.75 74.03 L382.25 74.67 L382.75 73.59 L383.25 74.71 L383.75 73.69 L384.25 74.86 L384.75 73.86 L385.25 74.8 L385.75 74.17 L386.25 75.33 L386.75 74.14 L387.25 75.52 L387.75 74.75 L388.25 75.41 L388.75 73.96 L389.25 74.63 L389.75 73.64 L390.25 74.41 L390.75 73.59 L391.25 74.73 L391.75 73.76 L392.25 74.77 L392.75 74.02 L393.25 75.16 L393.75 74.4 L394.25 75.59 L394.75 74.55 L395.25 75.72 L395.75 74.81 L396.25 75.76 L396.75 74.42 L397.25 75.13 L397.75 74.23 L398.25 75 L398.75 74.09 L399.25 74.99 L399.75 74.14 L400.25 74.83 L400.75 73.89 L401.25 74.99 L401.75 74.17 L402.25 75.19 L402.75 74.53 L403.25 75.15 L403.75 74.65 L404.25 75.33 L404.75 74.56 L405.25 75.4 L405.75 74.86 L406.25 75.41 L406.75 74.43 L407.25 75.68 L407.75 74.37 L408.25 75.22 L408.75 74.09 L409.25 74.72 L409.75 73.65 L410.25 74.45 L410.75 73.81 L411.25 74.53 L411.75 73.69 L412.25 74.69 L412.75 73.84 L413.25 74.39 L413.75 74.04 L414.25 74.83 L414.75 73.55 L415.25 74.64 L415.75 73.55 L416.25 74.47 L416.75 73.69 L417.25 74.48 L417.75 73.25 L418.25 73.98 L418.75 73.64 L419.25 74.32 L419.75 73.74 L420.25 74.32 L420.75 73.81 L421.25 74.59 L421.75 74.19 L422.25 75.12 L422.75 74.21 L423.25 75.05 L423.75 74.23 L424.25 74.68 L424.75 73.93 L425.25 74.98 L425.75 74.02 L426.25 74.79 L426.75 73.83 L427.25 75.06 L427.75 74.15 L428.25 74.99 L428.75 73.98 L429.25 74.93 L429.75 74.29 L430.25 75.17 L430.75 74.33 L431.25 75.02 L431.75 74 L432.25 74.89 L432.75 73.96 L433.25 74.23 L433.75 73.42 L434.25 74.69 L434.75 73.6 L435.25 74.58 L435.75 73.46 L436.25 74.53 L436.75 73.79 L437.25 74.37 L437.75 73.75 L438.25 74.38 L438.75 73.66 L439.25 74.59 L439.75 74.02 L440.25 75.04 L440.75 73.6 L441.25 74.65 L441.75 73.71 L442.25 74.98 L442.75 73.78 L443.25 74.82 L443.75 74.19 L444.25 74.91 L444.75 74.37 L445.25 74.91 L445.75 74.14 L446.25 75.12 L446.75 74.14 L447.25 75.53 L447.75 74.21 L448.25 75.3 L448.75 73.95 L449.25 75.24 L449.75 73.87 L450.25 74.85 L450.75 73.94 L451.25 74.57 L451.75 74.17 L452.25 75.24 L452.75 74.48 L453.25 75.31 L453.75 74.45 L454.25 75.33 L454.75 74.43 L455.25 75.36 L455.75 74.34 L456.25 75.4 L456.75 74.26 L457.25 75.12 L457.75 74.24 L458.25 75.08 L458.75 74.21 L459.25 75.23 L459.75 74.39 L460.25 75.05 L460.75 74.4 L461.25 75.33 L461.75 74.53 L462.25 75.41 L462.75 74.39 L463.25 75.72 L463.75 74.55 L464.25 75.59 L464.75 74.56 L465.25 75.27 L465.75 74.68 L466.25 75.63 L466.75 74.52 L467.25 75.48 L467.75 74.5 L468.25 75.25 L468.75 73.95 L469.25 74.67 L469.75 74.13 L470.25 75.07 L470.75 73.73 L471.25 74.63 L471.75 73.68 L472.25 75.07 L472.75 74.37 L473.25 75.25 L473.75 74.96 L474.25 75.69 L474.75 74.41 L475.25 75.41 L475.75 74.39 L476.25 75.24 L476.75 74.56 L477.25 75.4 L477.75 74.17 L478.25 75.01 L478.75 74.29 L479.25 75.14 L479.75 73.75 L480.25 75.04 L480.75 74.44 L481.25 75.38 L481.75 74.77 L482.25 75.38 L482.75 74.54 L483.25 75.1 L483.4 74.72 L483.75 57.3 L483.9 50.03 L484.25 34.17 L484.3 31.62 L484.75 34.24 L485.25 37.26 L485.3 37.64 L485.75 40.22 L486.2 43.26 L486.25 43.14 L486.75 43.44 L487.25 43.21 L487.75 44.3 L488.25 43.95 L488.75 44.9 L489.25 44.34 L489.75 45.46 L490 44.91 L490.25 45.61 L490.75 45.32 L491.25 46.24 L491.75 45.92 L492.25 47.2 L492.75 46.62 L493.25 47.87 L493.75 47.55 L494 48.07 L494.25 47.71 L494.75 48.74 L495.25 48.58 L495.75 49.23 L496.25 48.83 L496.75 50.13 L497.25 49.63 L497.75 50.8 L498.25 50.63 L498.75 51.35 L499.25 51.09 L499.5 52 L499.75 51.58 L500.25 52.53 L500.75 52.02 L501.25 53.27 L501.75 52.69 L502.25 53.55 L502.75 53.29 L503.25 54.39 L503.75 54.15 L504.2 54.96 L504.25 54.47 L504.75 55.38 L505.25 54.85 L505.75 55.95 L506.25 55.42 L506.75 56.46 L507.25 56.02 L507.75 57.08 L508.25 56.81 L508.75 57.56 L509 56.98 L509.25 57.47 L509.75 57.02 L510.25 57.65 L510.75 56.65 L511.25 57.53 L511.5 56.76 L511.75 57.49 L512.25 56.62 L512.75 57.53 L513.25 57.38 L513.75 57.76 L514 57.14 L514.25 58.1 L514.75 57.96 L515.25 58.92 L515.75 58.84 L516.25 60.22 L516.75 59.87 L517 60.85 L517.25 60.4 L517.75 61.11 L518.25 61.05 L518.75 61.69 L519.25 61.36 L519.75 61.97 L520 61.84 L520.25 62.4 L520.75 61.85 L521.25 62.82 L521.75 62.33 L522.25 62.74 L522.75 62.64 L523.25 63.18 L523.75 62.96 L524.25 63.45 L524.75 63.12 L525 63.9 L525.25 63.37 L525.75 63.85 L526.25 63.37 L526.75 64.16 L527.25 63.52 L527.75 64.46 L528.25 63.69 L528.75 64.61 L529.25 63.96 L529.75 64.77 L530 64.17 L530.25 64.58 L530.75 63.98 L531.25 64.74 L531.75 63.89 L532.25 64.81 L532.75 63.94 L533.25 64.72 L533.75 64.11 L534.25 64.94 L534.75 64.26 L535 64.9 L535.25 64.31 L535.75 65 L536.25 64.6 L536.75 65.09 L537.25 64.78 L537.75 65.45 L538.25 64.72 L538.75 65.44 L539.25 64.79 L539.75 65.39 L540 65.12 L540.25 65.57 L540.75 65.3 L541.25 65.67 L541.75 65.32 L542.25 65.98 L542.75 65.6 L543.25 66.48 L543.75 65.85 L544.25 66.42 L544.75 66.27 L545 66.81" fill="none" stroke="#0000ff" stroke-width="1.5" stroke-linejoin="round" stroke-linecap="butt" clip-path="url(#c10)"/>
<path d="M350.75 71.56 L351.25 73.39 L351.75 71.51 L352.25 73.24 L352.75 72.02 L353.25 73.31 L353.75 71.13 L354.25 72.88 L354.75 70.9 L355.25 73.16 L355.75 71.29 L356.25 72.97 L356.75 70.78 L357.25 72.1 L357.75 70.26 L358.25 72.26 L358.75 70.54 L359.25 72.09 L359.75 70.84 L360.25 72.33 L360.75 70.88 L361.25 72.48 L361.75 70.42 L362.25 71.89 L362.75 70.23 L363.25 72.78 L363.75 71.55 L364.25 73.12 L364.75 71.1 L365.25 73.26 L365.75 72.04 L366.25 73.4 L366.75 71.45 L367.25 73.69 L367.75 71.47 L368.25 73.32 L368.75 71.58 L369.25 72.99 L369.75 71.81 L370.25 73.4 L370.75 71.03 L371.25 72.95 L371.75 71.24 L372.25 72.78 L372.75 70.91 L373.25 72.32 L373.75 70.63 L374.25 72.01 L374.75 70.45 L375.25 72.45 L375.75 70.43 L376.25 72.72 L376.75 71.03 L377.25 72.11 L377.75 70.73 L378.25 71.93 L378.75 70.49 L379.25 72.06 L379.75 71.38 L380.25 72.92 L380.75 71.43 L381.25 73.37 L381.75 71.47 L382.25 72.85 L382.75 71.06 L383.25 73.53 L383.75 71.16 L384.25 73.3 L384.75 71.72 L385.25 72.86 L385.75 72.06 L386.25 73.27 L386.75 71.74 L387.25 73.21 L387.75 71.14 L388.25 72.38 L388.75 71.43 L389.25 73.16 L389.75 71.19 L390.25 72.59 L390.75 71.53 L391.25 72.8 L391.75 71.51 L392.25 73.45 L392.75 71.33 L393.25 73.44 L393.75 71.5 L394.25 73.94 L394.75 71.81 L395.25 73.7 L395.75 71.6 L396.25 73.25 L396.75 71.63 L397.25 72.94 L397.75 71.03 L398.25 72.8 L398.75 70.7 L399.25 72.77 L399.75 70.8 L400.25 72.04 L400.75 70.67 L401.25 72.63 L401.75 70.47 L402.25 71.76 L402.75 70.18 L403.25 72.01 L403.75 70.28 L404.25 72.37 L404.75 70.73 L405.25 72.7 L405.75 71.51 L406.25 73.31 L406.75 70.99 L407.25 72.59 L407.75 70.63 L408.25 72.33 L408.75 71.18 L409.25 72.04 L409.75 70.74 L410.25 72.36 L410.75 70.37 L411.25 72.12 L411.75 70.76 L412.25 72.37 L412.75 70.51 L413.25 72.12 L413.75 70.29 L414.25 72.15 L414.75 70.46 L415.25 72.36 L415.75 70.56 L416.25 72.54 L416.75 70.87 L417.25 71.84 L417.75 69.3 L418.25 71.11 L418.75 70.04 L419.25 72.02 L419.75 70.3 L420.25 72.32 L420.75 70.84 L421.25 72.48 L421.75 70.81 L422.25 72.72 L422.75 70.91 L423.25 72.23 L423.75 70.81 L424.25 72.92 L424.75 70.98 L425.25 72.39 L425.75 70.96 L426.25 73.18 L426.75 71.51 L427.25 72.64 L427.75 71.63 L428.25 73.34 L428.75 71.24 L429.25 72.55 L429.75 71.51 L430.25 73.03 L430.75 71.5 L431.25 72.51 L431.75 71.22 L432.25 72.81 L432.75 70.39 L433.25 72.97 L433.75 70.76 L434.25 72.12 L434.75 70.35 L435.25 72.25 L435.75 70.45 L436.25 72.64 L436.75 71.08 L437.25 72.76 L437.75 71.35 L438.25 72.83 L438.75 71.29 L439.25 73.29 L439.75 71.24 L440.25 72.82 L440.75 71.59 L441.25 73.62 L441.75 71.9 L442.25 72.83 L442.75 71.46 L443.25 72.76 L443.75 71.3 L444.25 73.55 L444.75 72.24 L445.25 74.35 L445.75 71.18 L446.25 72.69 L446.75 70.84 L447.25 72.25 L447.75 70.24 L448.25 72.31 L448.75 70.01 L449.25 72.09 L449.75 70.13 L450.25 72.6 L450.75 71.03 L451.25 73.01 L451.75 71.9 L452.25 73.49 L452.75 71.76 L453.25 73.4 L453.75 71.48 L454.25 73.51 L454.75 71.74 L455.25 73.1 L455.75 71.72 L456.25 72.75 L456.75 70.72 L457.25 72.43 L457.75 71.04 L458.25 71.91 L458.75 70.15 L459.25 71.63 L459.75 70.14 L460.25 71.54 L460.75 70.27 L461.25 72.11 L461.75 70.46 L462.25 72.32 L462.75 70.69 L463.25 72.51 L463.75 70.98 L464.25 72.77 L464.75 71.26 L465.25 72.72 L465.75 70.34 L466.25 72.49 L466.75 71.14 L467.25 73.08 L467.75 71.45 L468.25 72.94 L468.75 71.62 L469.25 72.62 L469.75 70.84 L470.25 72.95 L470.75 70.57 L471.25 72.04 L471.75 70.61 L472.25 72.52 L472.75 70.33 L473.25 72.28 L473.75 70.94 L474.25 72.03 L474.75 70.54 L475.25 71.94 L475.75 70.58 L476.25 72.06 L476.75 70.6 L477.25 72.07 L477.75 70.69 L478.25 72.62 L478.6 70.68 L478.6 72.5 L479.1 58.44 L479.4 50 L479.6 44.9 L480.1 32.15 L480.2 29.6 L480.6 33.57 L481.1 38.54 L481.6 43.5 L482.1 41 L482.6 38.5 L483.1 39.39 L483.6 40.29 L484 41 L484.1 42.01 L484.6 43.39 L485.1 42.96 L485.6 42.99 L486.1 42.49 L486.6 41.55 L487.1 41.52 L487.6 43.54 L488.1 44.87 L488.6 45.94 L489.1 46.38 L489.6 45.89 L490 44.2 L490.1 43.29 L490.6 44.44 L491.1 45.31 L491.6 47.59 L492.1 48.99 L492.6 49.38 L493.1 49.82 L493.6 49.23 L494.1 47.98 L494.6 46.54 L495 46.54 L495.1 46.53 L495.6 48.82 L496.1 50.85 L496.6 52.63 L497.1 53.37 L497.6 52.74 L498.1 51.04 L498.6 48.41 L499.1 48.15 L499.6 49.2 L500 52 L500.1 54.01 L500.6 56.41 L501.1 55.32 L501.6 53.09 L502.1 51.96 L502.6 51.44 L503.1 52.58 L503.6 54.28 L504.1 57.36 L504.6 58.25 L505 56.9 L505.1 54.2 L505.6 52.39 L506.1 52.19 L506.6 53.41 L507.1 56.48 L507.6 58.87 L508.1 61.73 L508.6 61.18 L509.1 60.01 L509.6 58.07 L510 55.08 L510.1 54.46 L510.6 55.3 L511.1 58.63 L511.6 60.49 L512.1 61.35 L512.6 62.43 L513.1 61.86 L513.6 59.84 L514.1 58.41 L514.6 56.86 L515 58.58 L515.1 59.18 L515.6 60.82 L516.1 62.79 L516.6 63.92 L517.1 62.74 L517.6 61.22 L518.1 59.07 L518.6 59.64 L519.1 61.64 L519.6 63.13 L520 64.88 L520.1 65.37 L520.6 63.22 L521.1 61.18 L521.6 59.18 L522.1 60.21 L522.6 61.81 L523.1 64.78 L523.6 66.83 L524.1 67.47 L524.6 66.19 L525 64.48 L525.1 62.71 L525.6 61.48 L526.1 62.57 L526.6 64.46 L527.1 66.01 L527.6 66.82 L528.1 66.48 L528.6 65.78 L529.1 63.36 L529.6 62.07 L530 63.33 L530.1 64.1 L530.6 65.61 L531.1 67.12 L531.6 67.32 L532.1 65.85 L532.6 64.42 L533.1 63.27 L533.6 63.33 L534.1 63.76 L534.6 65.46 L535 67.44 L535.1 67.93 L535.6 66.76 L536.1 65.68 L536.6 64.25 L537.1 63.02 L537.6 64.53 L538.1 66.18 L538.6 66.99 L539.1 68.31 L539.6 69.03 L540 66.95 L540.1 63.75 L540.6 63.34 L541.1 65.57 L541.6 66.8 L542.1 68.26 L542.6 68.66 L543.1 69.56 L543.6 68.06 L544.1 66.85 L544.6 65.87 L545 65.76" fill="none" stroke="#0ad20a" stroke-width="1.5" stroke-linejoin="round" stroke-linecap="butt" clip-path="url(#c10)"/>
<rect x="350.75" y="22.05" width="193.3" height="126.6" fill="none" stroke="#000" stroke-width="1.4"/>
<line x1="372.23" y1="148.65" x2="372.23" y2="153.05" stroke="#000" stroke-width="1.1"/>
<text x="371.23" y="165.95" class="tk" text-anchor="middle" textLength="26" lengthAdjust="spacingAndGlyphs">1.950</text>
<line x1="425.92" y1="148.65" x2="425.92" y2="153.05" stroke="#000" stroke-width="1.1"/>
<text x="424.92" y="165.95" class="tk" text-anchor="middle" textLength="26" lengthAdjust="spacingAndGlyphs">1.975</text>
<line x1="479.62" y1="148.65" x2="479.62" y2="153.05" stroke="#000" stroke-width="1.1"/>
<text x="478.62" y="165.95" class="tk" text-anchor="middle" textLength="26" lengthAdjust="spacingAndGlyphs">2.000</text>
<line x1="533.31" y1="148.65" x2="533.31" y2="153.05" stroke="#000" stroke-width="1.1"/>
<text x="532.31" y="165.95" class="tk" text-anchor="middle" textLength="26" lengthAdjust="spacingAndGlyphs">2.025</text>
<line x1="346.15" y1="143.96" x2="350.75" y2="143.96" stroke="#000" stroke-width="1.1"/>
<text x="340.45" y="148.56" class="tk" text-anchor="end" textLength="17.2" lengthAdjust="spacingAndGlyphs">600</text>
<line x1="346.15" y1="120.52" x2="350.75" y2="120.52" stroke="#000" stroke-width="1.1"/>
<text x="340.45" y="125.12" class="tk" text-anchor="end" textLength="17.2" lengthAdjust="spacingAndGlyphs">650</text>
<line x1="346.15" y1="97.07" x2="350.75" y2="97.07" stroke="#000" stroke-width="1.1"/>
<text x="340.45" y="101.67" class="tk" text-anchor="end" textLength="17.2" lengthAdjust="spacingAndGlyphs">700</text>
<line x1="346.15" y1="73.63" x2="350.75" y2="73.63" stroke="#000" stroke-width="1.1"/>
<text x="340.45" y="78.23" class="tk" text-anchor="end" textLength="17.2" lengthAdjust="spacingAndGlyphs">750</text>
<line x1="346.15" y1="50.18" x2="350.75" y2="50.18" stroke="#000" stroke-width="1.1"/>
<text x="340.45" y="54.78" class="tk" text-anchor="end" textLength="17.2" lengthAdjust="spacingAndGlyphs">800</text>
<line x1="346.15" y1="26.74" x2="350.75" y2="26.74" stroke="#000" stroke-width="1.1"/>
<text x="340.45" y="31.34" class="tk" text-anchor="end" textLength="17.2" lengthAdjust="spacingAndGlyphs">850</text>
<rect x="355" y="100.3" width="81.3" height="43.6" rx="1.2" fill="#fff" fill-opacity="0.85" stroke="#c4c4c4" stroke-width="1.15"/>
<line x1="358.8" y1="107.4" x2="379" y2="107.4" stroke="#ff0000" stroke-width="1.2"/>
<text x="386.5" y="111" class="lg" textLength="38.5" lengthAdjust="spacingAndGlyphs">ATPDraw</text>
<line x1="358.8" y1="121.15" x2="379" y2="121.15" stroke="#0000ff" stroke-width="1.2"/>
<text x="386.5" y="124.75" class="lg" textLength="33.3" lengthAdjust="spacingAndGlyphs">Simulink</text>
<line x1="358.8" y1="134.9" x2="379" y2="134.9" stroke="#0ad20a" stroke-width="1.2"/>
<text x="386.5" y="138.5" class="lg" textLength="39" lengthAdjust="spacingAndGlyphs">OPAL-RT</text>
<text x="446.4" y="183.65" class="lb" text-anchor="middle"><tspan font-style="italic">t</tspan> [s]</text>
<text x="446.8" y="15.15" class="tt" text-anchor="middle"><tspan font-size="19">(</tspan>b<tspan font-size="19">)</tspan></text>
<text transform="translate(313.2 87.75) rotate(-90)" class="lb" text-anchor="middle"><tspan font-style="italic" font-size="13">V</tspan><tspan font-style="italic" font-size="8" dy="2.2">out</tspan><tspan dy="-2.2" font-size="10.8"> [V]</tspan></text>
<clipPath id="c01"><rect x="50.75" y="216.05" width="193.3" height="126.6"/></clipPath>
<line x1="82.97" y1="216.05" x2="82.97" y2="342.65" stroke="#dedede" stroke-width="1"/>
<line x1="136.66" y1="216.05" x2="136.66" y2="342.65" stroke="#dedede" stroke-width="1"/>
<line x1="190.36" y1="216.05" x2="190.36" y2="342.65" stroke="#dedede" stroke-width="1"/>
<line x1="244.05" y1="216.05" x2="244.05" y2="342.65" stroke="#dedede" stroke-width="1"/>
<line x1="50.75" y1="342.65" x2="244.05" y2="342.65" stroke="#dedede" stroke-width="1"/>
<line x1="50.75" y1="321.55" x2="244.05" y2="321.55" stroke="#dedede" stroke-width="1"/>
<line x1="50.75" y1="300.45" x2="244.05" y2="300.45" stroke="#dedede" stroke-width="1"/>
<line x1="50.75" y1="279.35" x2="244.05" y2="279.35" stroke="#dedede" stroke-width="1"/>
<line x1="50.75" y1="258.25" x2="244.05" y2="258.25" stroke="#dedede" stroke-width="1"/>
<line x1="50.75" y1="237.15" x2="244.05" y2="237.15" stroke="#dedede" stroke-width="1"/>
<line x1="50.75" y1="216.05" x2="244.05" y2="216.05" stroke="#dedede" stroke-width="1"/>
<path d="M50.75 323.55 L51.25 323.61 L51.75 323.67 L52.25 323.62 L52.75 323.62 L53.25 323.58 L53.75 323.63 L54.25 323.66 L54.75 323.51 L55.25 323.7 L55.75 323.59 L56.25 323.59 L56.75 323.6 L57.25 323.65 L57.3 323.59 L57.75 325.33 L57.8 325.46 L58.25 323.73 L58.3 323.6 L58.75 323.51 L59.25 323.5 L59.75 323.65 L60.25 323.52 L60.75 323.63 L61.25 323.7 L61.75 323.68 L62.25 323.51 L62.75 323.59 L63.25 323.61 L63.75 323.56 L64.25 323.57 L64.75 323.71 L65.25 323.52 L65.75 323.69 L66.25 323.67 L66.75 323.52 L67.25 323.57 L67.6 323.61 L67.75 324.34 L68 325.17 L68.25 324.55 L68.5 323.49 L68.75 323.55 L69.25 323.47 L69.75 323.72 L70.25 323.72 L70.75 323.58 L71.25 323.65 L71.75 323.48 L72.25 323.61 L72.75 323.56 L73.25 323.61 L73.75 323.55 L74.25 323.64 L74.75 323.59 L75.25 323.6 L75.75 323.6 L76.25 323.56 L76.75 323.6 L77.25 323.66 L77.75 323.64 L78.25 323.5 L78.6 323.65 L78.75 324.15 L79 325.34 L79.25 324.31 L79.4 323.64 L79.75 323.68 L80.25 323.57 L80.75 323.74 L81.25 323.71 L81.5 323.61 L81.75 323.4 L82.25 323.29 L82.75 322.89 L83.2 322.5 L83.25 322.57 L83.75 322.42 L84 322.5 L84.25 321.8 L84.6 320.9 L84.75 317.58 L85.25 305.78 L85.5 300.14 L85.75 290.06 L86.25 269.97 L86.7 251.94 L86.75 251.86 L87.25 251.39 L87.6 251.54 L87.75 250.53 L88.25 251.66 L88.75 250.47 L89.25 251.46 L89.75 249.61 L89.9 251.17 L90.25 249.7 L90.75 250.28 L91.25 249.65 L91.75 250.55 L92.25 248.64 L92.75 249.92 L93.25 248.61 L93.5 249.27 L93.75 248.57 L94.25 250.18 L94.75 249.85 L95.25 250.81 L95.75 250.52 L95.8 251.55 L96.25 251.11 L96.75 252.73 L97.25 252.5 L97.7 254.17 L97.75 253.11 L98.25 254.37 L98.75 254.03 L99.25 256.03 L99.75 255.75 L99.9 256.58 L100.25 256.08 L100.75 258.3 L101.25 257.81 L101.75 259.52 L101.8 258.27 L102.25 260.46 L102.75 259.5 L103.25 260.84 L103.75 260.2 L104.25 261.73 L104.5 260.8 L104.75 262.41 L105.25 260.96 L105.75 261.85 L106.25 261.14 L106.75 262.91 L107.25 261.8 L107.75 262.58 L108.2 261.64 L108.25 262.52 L108.75 261.6 L109.25 262.98 L109.75 261.42 L110.25 263.05 L110.75 262.02 L111.25 262.39 L111.75 261.58 L112.25 262.5 L112.7 261.54 L112.75 262.48 L113.25 261.58 L113.75 262.24 L114.25 260.77 L114.75 261.5 L115.25 260.66 L115.75 261.43 L116.25 260.04 L116.4 261.81 L116.75 260.7 L117.25 262.45 L117.75 261.54 L118.25 262.76 L118.75 261.94 L119.25 263.36 L119.75 263.05 L120 263.64 L120.25 263.11 L120.75 263.85 L121.25 263.74 L121.75 264.68 L122.25 263.67 L122.75 265.42 L123.25 264.54 L123.7 266 L123.75 264.73 L124.25 266.58 L124.75 265.23 L125.25 266.63 L125.75 265.83 L126.25 267.56 L126.75 266.74 L127.25 267.84 L127.4 267.42 L127.75 268.27 L128.25 267.08 L128.75 268.46 L129.25 266.33 L129.75 267.58 L130.25 266.54 L130.75 268.16 L131.25 266.64 L131.75 268.31 L132.25 267.64 L132.75 268.14 L133.25 267.31 L133.75 268.98 L134.25 267.84 L134.75 268.22 L135 267.31 L135.25 268.8 L135.75 266.83 L136.25 267.66 L136.75 267.75 L137.25 268.45 L137.75 267.77 L138.25 267.78 L138.75 266.76 L139.25 268.54 L139.75 267.29 L140.25 268.16 L140.75 267.59 L141.25 268.06 L141.75 266.97 L142.25 268.4 L142.75 267.07 L143.25 268.17 L143.75 267.45 L144.25 268.94 L144.75 267.39 L145.25 268.27 L145.75 267.67 L146.25 268.04 L146.75 267.36 L147.25 268.99 L147.75 267.41 L148.25 268.81 L148.75 267.16 L149.25 268.27 L149.75 267 L150.25 268.52 L150.75 267.16 L151.25 268.1 L151.75 267.92 L152.25 268.19 L152.75 267.3 L153.25 268.63 L153.75 267.88 L154.25 268.08 L154.75 267.59 L155.25 268.05 L155.75 267.17 L156.25 268.63 L156.75 267.37 L157.25 268.31 L157.75 267.6 L158.25 268.22 L158.75 266.83 L159.25 268.75 L159.75 266.83 L160.25 268.73 L160.75 267.27 L161.25 268.59 L161.75 266.93 L162.25 268.16 L162.75 266.62 L163.25 268.63 L163.75 267.32 L164.25 269.36 L164.75 267.63 L165.25 268.71 L165.75 266.9 L166.25 268.32 L166.75 267.55 L167.25 268.43 L167.75 267.16 L168.25 268.47 L168.75 266.67 L169.25 268.64 L169.75 266.96 L170.25 268.98 L170.75 267.58 L171.25 268.63 L171.75 266.74 L172.25 268.32 L172.75 267.12 L173.25 268.35 L173.75 266.53 L174.25 269.16 L174.75 267.6 L175.25 268.11 L175.75 266.83 L176.25 268.35 L176.75 267.54 L177.25 268.64 L177.75 268.03 L178.25 269 L178.75 267.83 L179.25 268.58 L179.75 267.22 L180.25 268.62 L180.75 266.93 L181.25 268.47 L181.75 267.26 L182.25 268.37 L182.75 266.96 L183.25 268.7 L183.75 267.58 L184.25 268.44 L184.75 267.49 L185.25 269.1 L185.75 266.96 L186.25 268.76 L186.75 267.24 L187.25 268.44 L187.75 268 L188.25 268.45 L188.75 266.78 L189.25 268.78 L189.75 266.85 L190.25 268.28 L190.75 266.86 L191.25 267.95 L191.75 266.75 L192.25 267.79 L192.75 267.57 L193.25 268.34 L193.75 267.35 L194.25 268.64 L194.75 267.77 L195.25 268.47 L195.75 267.73 L196.25 268.24 L196.75 268.01 L197.25 269.15 L197.75 267.42 L198.25 268.11 L198.75 267.57 L199.25 267.96 L199.75 267.14 L200.25 268.59 L200.75 266.98 L201.25 268.69 L201.75 267.58 L202.25 267.77 L202.75 266.78 L203.25 268.47 L203.75 266.98 L204.25 268.61 L204.75 268.01 L205.25 269.01 L205.75 267.67 L206.25 267.95 L206.75 267.47 L207.25 267.94 L207.75 267.73 L208.25 268.32 L208.75 266.99 L209.25 267.93 L209.75 266.7 L210.25 268.62 L210.75 267.14 L211.25 268.9 L211.75 266.88 L212.25 268.27 L212.75 268.05 L213.25 268.57 L213.75 267.37 L214.25 268.88 L214.75 267.57 L215.25 269.15 L215.75 268.05 L216.25 268.33 L216.75 267.37 L217.25 268.68 L217.75 267.27 L218.25 268.07 L218.75 266.82 L219.25 267.97 L219.75 267.44 L220.25 268.67 L220.75 267.12 L221.25 268.4 L221.75 267.93 L222.25 268.42 L222.75 267.16 L223.25 268.18 L223.75 267.07 L224.25 268.69 L224.75 267.24 L225.25 269.06 L225.75 266.76 L226.25 268.15 L226.75 267.67 L227.25 269.27 L227.75 267.4 L228.25 269.14 L228.75 266.99 L229.25 268.4 L229.75 267.57 L230.25 269.13 L230.75 266.88 L231.25 268.25 L231.75 266.91 L232.25 268.47 L232.75 267.56 L233.25 268.7 L233.75 267.47 L234.25 268.45 L234.75 268.08 L235.25 268.38 L235.75 267.85 L236.25 269.06 L236.75 267.53 L237.25 267.71 L237.75 267.02 L238.25 268.89 L238.75 267.7 L239.25 269.01 L239.75 267.25 L240.25 268.8 L240.75 266.99 L241.25 269.13 L241.75 267.38 L242.25 269.49 L242.75 267.87 L243.25 268.6 L243.75 267.62 L244.25 269.38 L244.5 267.01" fill="none" stroke="#ff0000" stroke-width="1.3" stroke-linejoin="round" stroke-linecap="butt" clip-path="url(#c01)"/>
<path d="M50.75 329.31 L51.25 329.51 L51.75 329.32 L52.25 329.45 L52.75 329.25 L53.25 329.55 L53.75 329.27 L54.25 329.47 L54.75 329.29 L55.25 329.37 L55.75 329.27 L56.25 329.4 L56.75 329.29 L57.25 329.41 L57.75 329.31 L58.25 329.57 L58.75 329.3 L59.25 329.45 L59.75 329.35 L60.25 329.53 L60.75 329.42 L61.25 329.49 L61.75 329.33 L62.25 329.45 L62.75 329.29 L63.25 329.51 L63.75 329.26 L64.25 329.46 L64.75 329.37 L65.25 329.45 L65.75 329.37 L66.25 329.48 L66.75 329.33 L67.25 329.45 L67.75 329.33 L68.25 329.47 L68.75 329.39 L69.25 329.46 L69.75 329.29 L70.25 329.39 L70.75 329.25 L71.25 329.39 L71.75 329.21 L72.25 329.48 L72.75 329.29 L73.25 329.42 L73.75 329.4 L74.25 329.37 L74.75 329.4 L75.25 329.42 L75.75 329.37 L76.25 329.57 L76.75 329.26 L77.25 329.5 L77.75 329.31 L78.25 329.54 L78.75 329.27 L79.25 329.37 L79.75 329.34 L80.25 329.47 L80.5 329.25 L80.75 329.95 L81.25 330.87 L81.3 330.97 L81.75 329.92 L82 329.42 L82.25 329.42 L82.75 329.53 L83.25 329.44 L83.75 329.62 L84.25 329.57 L84.75 329.77 L85 329.69 L85.25 330.73 L85.5 331.41 L85.75 330.97 L86.2 329.58 L86.25 329.79 L86.75 329.58 L87.25 329.71 L87.5 329.39 L87.75 317.04 L88.25 292.72 L88.3 290.01 L88.75 265.73 L89 252.1 L89.25 251.49 L89.75 249.87 L89.9 248.72 L90.25 250.22 L90.75 248.36 L91.25 249.49 L91.75 248.27 L92.25 249.19 L92.6 247.59 L92.75 248.69 L93.25 247.34 L93.75 248.9 L94.25 247.57 L94.5 248.77 L94.75 247.67 L95.25 247.82 L95.75 246.47 L96.25 247.97 L96.75 246.37 L97.2 247.81 L97.25 245.98 L97.75 247.56 L98.25 246.65 L98.75 247.43 L99 247.18 L99.25 248.57 L99.75 247.22 L100.25 250.16 L100.75 249.2 L100.9 250.6 L101.25 250.44 L101.75 252.53 L102.25 252.8 L102.7 254.73 L102.75 253.09 L103.25 255.19 L103.75 254.62 L104.25 257.01 L104.75 256.67 L105 258.41 L105.25 257.4 L105.75 259.22 L106.25 258.64 L106.75 259.45 L107.25 258.73 L107.3 259.87 L107.75 259.33 L108.25 260.6 L108.75 259.66 L109.25 261.19 L109.75 260 L110.25 261.19 L110.75 259.75 L110.9 261.22 L111.25 260.26 L111.75 261.19 L112.25 260.18 L112.75 260.63 L113.25 259.45 L113.75 261 L114.25 259.26 L114.6 260.16 L114.75 259.04 L115.25 259.73 L115.75 258.75 L116.25 259.12 L116.75 257.73 L117.25 258.85 L117.3 257.04 L117.75 258.69 L118.25 257.94 L118.75 259.77 L119.25 258.55 L119.75 260.27 L120.25 258.67 L120.75 260.5 L121 259.37 L121.25 261.39 L121.75 260.46 L122.25 262.67 L122.75 261.45 L123.25 262.59 L123.7 262.88 L123.75 263.88 L124.25 263.12 L124.75 264.02 L125.25 263.77 L125.75 264.17 L126.25 263.48 L126.75 265.57 L127.25 264.2 L127.4 264.86 L127.75 264.01 L128.25 265.14 L128.75 264.44 L129.25 265.42 L129.75 265.12 L130.25 266.03 L130.75 264.86 L131.25 266.63 L131.75 264.92 L132.25 265.98 L132.75 264.4 L133.25 266.26 L133.75 264.75 L134.25 266.55 L134.75 264.98 L135 266.28 L135.25 264.93 L135.75 266.37 L136.25 264.88 L136.75 267.09 L137.25 266.2 L137.75 267.49 L138.25 265.97 L138.75 267.07 L139.25 265.74 L139.75 267.21 L140.25 265.82 L140.75 267.26 L141.25 265.56 L141.75 267.2 L142.25 265.85 L142.75 267.74 L143.25 266.47 L143.75 267.16 L144.25 266.7 L144.75 267.71 L145.25 266.38 L145.75 267.41 L146.25 266.14 L146.75 266.81 L147.25 265.93 L147.75 267.05 L148.25 266.47 L148.75 267.22 L149.25 265.66 L149.75 266.79 L150.25 265.26 L150.75 267.29 L151.25 265.84 L151.75 266.43 L152.25 265.4 L152.75 266.96 L153.25 265.26 L153.75 266.73 L154.25 265.53 L154.75 266.06 L155.25 265.08 L155.75 266.27 L156.25 265.48 L156.75 266.08 L157.25 265.36 L157.75 266.7 L158.25 265.71 L158.75 266.7 L159.25 265.57 L159.75 266.71 L160.25 265.36 L160.75 266.52 L161.25 265.3 L161.75 266.47 L162.25 265.17 L162.75 266.28 L163.25 265.69 L163.75 267.34 L164.25 266.15 L164.75 267.17 L165.25 266.3 L165.75 266.3 L166.25 264.93 L166.75 267.03 L167.25 265.87 L167.75 266.32 L168.25 265.08 L168.75 266.56 L169.25 265.28 L169.75 266.65 L170.25 265.06 L170.75 266.67 L171.25 265 L171.75 267.67 L172.25 266.06 L172.75 267.64 L173.25 266.77 L173.75 267.55 L174.25 266.35 L174.75 267.72 L175.25 265.4 L175.75 267.13 L176.25 265.68 L176.75 266.71 L177.25 265.6 L177.75 266.7 L178.25 265.4 L178.75 267.17 L179.25 265.54 L179.75 267 L180.25 266.69 L180.75 267.74 L181.25 266.01 L181.75 267.23 L182.25 266.35 L182.75 266.94 L183.25 266.06 L183.75 267.56 L184.25 265.67 L184.75 267.64 L185.25 265.32 L185.75 266.98 L186.25 265.41 L186.75 266.54 L187.25 265.75 L187.75 266.73 L188.25 265.51 L188.75 266.28 L189.25 265.67 L189.75 267.72 L190.25 266.19 L190.75 267.98 L191.25 265.69 L191.75 267.21 L192.25 266.48 L192.75 268.05 L193.25 266.51 L193.75 267.57 L194.25 264.98 L194.75 267.2 L195.25 265.06 L195.75 267.53 L196.25 265.69 L196.75 266.31 L197.25 266.64 L197.75 266.88 L198.25 266.06 L198.75 267.07 L199.25 266.25 L199.75 267.51 L200.25 265.93 L200.75 266.93 L201.25 265.36 L201.75 267.01 L202.25 265.88 L202.75 267.08 L203.25 265.98 L203.75 267.67 L204.25 266.65 L204.75 268.13 L205.25 266.14 L205.75 267.4 L206.25 266.46 L206.75 268.38 L207.25 266.36 L207.75 267.52 L208.25 265.87 L208.75 267.32 L209.25 266.52 L209.75 267.18 L210.25 266.33 L210.75 267.48 L211.25 266.13 L211.75 267.15 L212.25 266 L212.75 267.41 L213.25 266.47 L213.75 267.39 L214.25 266.34 L214.75 268.2 L215.25 266.56 L215.75 266.76 L216.25 266.13 L216.75 266.76 L217.25 266.39 L217.75 267.03 L218.25 265.98 L218.75 266.96 L219.25 265.38 L219.75 266.62 L220.25 266.04 L220.75 267.89 L221.25 266.15 L221.75 267.53 L222.25 266.61 L222.75 267.7 L223.25 265.36 L223.75 266.87 L224.25 265.74 L224.75 266.77 L225.25 265.41 L225.75 267.41 L226.25 264.81 L226.75 266.45 L227.25 266.42 L227.75 267.19 L228.25 265.64 L228.75 266.96 L229.25 265.63 L229.75 267 L230.25 265.57 L230.75 266.73 L231.25 266.23 L231.75 266.94 L232.25 265.09 L232.75 266.42 L233.25 266.44 L233.75 267.72 L234.25 265.89 L234.75 267.21 L235.25 266.49 L235.75 266.57 L236.25 265.55 L236.75 266.23 L237.25 264.9 L237.75 266.44 L238.25 265.84 L238.75 267.49 L239.25 266.4 L239.75 267.27 L240.25 266.39 L240.75 267.7 L241.25 266.09 L241.75 267.93 L242.25 265.61 L242.75 267.72 L243.25 266.64 L243.75 267.78 L244.25 266.36 L244.5 266.89" fill="none" stroke="#0000ff" stroke-width="1.3" stroke-linejoin="round" stroke-linecap="butt" clip-path="url(#c01)"/>
<path d="M50.75 318.5 L51.6 321 L52.3 316.1 L52.7 327 L53.5 315.7 L54.7 320 L55.9 317.6 L57 314.1 L57.8 324.7 L59 317.6 L60.2 315.3 L61.3 319.2 L62.5 317.6 L63.7 318.8 L64.9 315.7 L65.6 320.8 L66.4 310.2 L67.6 321.6 L68.2 325.5 L68.8 312.2 L70 321.6 L71.1 313 L72.3 320.8 L73.5 313.7 L74.6 327.8 L75.8 313.7 L77 323.1 L78.2 313.7 L79.3 318.4 L80.5 314.5 L81.3 317.6 L82.1 313.7 L82.8 300 L83.9 262 L85.3 250.5 L87.6 257.4 L89.9 251.9 L91.7 253.7 L93.1 258.3 L94.5 255.5 L96.3 261 L97.7 259.2 L100 264.7 L101.3 262 L103.1 269.3 L105.4 266.5 L109 266 L111 263.8 L114.6 261.5 L117.3 265.6 L119.1 267.4 L121.9 265.6 L126.4 270.2 L127.6 270.45 L128.9 266.64 L130.2 267.69 L131.62 266.49 L132.81 267.63 L134.27 267.16 L135.4 269.86 L136.75 263.54 L137.91 271.26 L139.33 264.19 L140.54 268.2 L141.66 266.88 L143.07 269.96 L144.07 267.01 L145.16 271.49 L146.41 263.05 L147.88 270.27 L148.85 263.53 L150.33 267.85 L151.82 264.73 L153.4 277 L154.31 266.35 L155.63 268.24 L156.77 263.37 L157.77 268.15 L158.69 264.11 L159.75 268.33 L161.33 266.58 L162.7 267.71 L163.66 266.37 L164.87 269.63 L166.31 263.8 L167.49 270.52 L168.59 266.68 L169.59 268.42 L170.87 266.51 L172.19 270.43 L173.34 264.28 L174.47 270.12 L175.83 263.44 L177.35 270.45 L178.41 263.98 L179.92 268.02 L181.15 266.66 L182.07 267.84 L183.08 262.85 L184.58 267.63 L185.74 267.08 L187.06 271.84 L188.2 265.32 L189.22 267.76 L190.42 262.99 L192.6 256.5 L194.23 268.37 L195.4 275.8 L196.94 268.2 L198.36 266.99 L199.55 267.93 L200.72 265.24 L201.95 267.88 L203.5 264.54 L204.47 269.76 L205.62 266.94 L206.73 270.57 L207.64 263.41 L209.11 270.88 L210.11 266.35 L211.51 270.9 L212.86 267.09 L214.42 271.18 L215.39 264.42 L216.98 270.02 L218.55 267.05 L220.12 268.47 L221.66 266.69 L222.62 271.15 L223.88 265.28 L224.92 267.81 L226.24 267.08 L227.74 268.51 L229.31 267 L230.79 267.88 L232.23 262.91 L233.65 271.03 L235.15 266.29 L236.5 270.99 L237.49 266.93 L238.52 268.56 L239.82 263.9 L241.12 268.13 L242.48 263.17 L243.6 268.06" fill="none" stroke="#0ad20a" stroke-width="1.3" stroke-linejoin="round" stroke-linecap="butt" clip-path="url(#c01)"/>
<rect x="50.75" y="216.05" width="193.3" height="126.6" fill="none" stroke="#000" stroke-width="1.4"/>
<line x1="82.97" y1="342.65" x2="82.97" y2="347.05" stroke="#000" stroke-width="1.1"/>
<text x="81.97" y="359.95" class="tk" text-anchor="middle" textLength="26" lengthAdjust="spacingAndGlyphs">1.000</text>
<line x1="136.66" y1="342.65" x2="136.66" y2="347.05" stroke="#000" stroke-width="1.1"/>
<text x="135.66" y="359.95" class="tk" text-anchor="middle" textLength="26" lengthAdjust="spacingAndGlyphs">1.025</text>
<line x1="190.36" y1="342.65" x2="190.36" y2="347.05" stroke="#000" stroke-width="1.1"/>
<text x="189.36" y="359.95" class="tk" text-anchor="middle" textLength="26" lengthAdjust="spacingAndGlyphs">1.050</text>
<line x1="244.05" y1="342.65" x2="244.05" y2="347.05" stroke="#000" stroke-width="1.1"/>
<text x="243.05" y="359.95" class="tk" text-anchor="middle" textLength="26" lengthAdjust="spacingAndGlyphs">1.075</text>
<line x1="46.15" y1="342.65" x2="50.75" y2="342.65" stroke="#000" stroke-width="1.1"/>
<text x="40.45" y="347.25" class="tk" text-anchor="end" textLength="20.2" lengthAdjust="spacingAndGlyphs">−10</text>
<line x1="46.15" y1="321.55" x2="50.75" y2="321.55" stroke="#000" stroke-width="1.1"/>
<text x="40.45" y="326.15" class="tk" text-anchor="end" textLength="6" lengthAdjust="spacingAndGlyphs">0</text>
<line x1="46.15" y1="300.45" x2="50.75" y2="300.45" stroke="#000" stroke-width="1.1"/>
<text x="40.45" y="305.05" class="tk" text-anchor="end" textLength="11.8" lengthAdjust="spacingAndGlyphs">10</text>
<line x1="46.15" y1="279.35" x2="50.75" y2="279.35" stroke="#000" stroke-width="1.1"/>
<text x="40.45" y="283.95" class="tk" text-anchor="end" textLength="11.8" lengthAdjust="spacingAndGlyphs">20</text>
<line x1="46.15" y1="258.25" x2="50.75" y2="258.25" stroke="#000" stroke-width="1.1"/>
<text x="40.45" y="262.85" class="tk" text-anchor="end" textLength="11.8" lengthAdjust="spacingAndGlyphs">30</text>
<line x1="46.15" y1="237.15" x2="50.75" y2="237.15" stroke="#000" stroke-width="1.1"/>
<text x="40.45" y="241.75" class="tk" text-anchor="end" textLength="11.8" lengthAdjust="spacingAndGlyphs">40</text>
<line x1="46.15" y1="216.05" x2="50.75" y2="216.05" stroke="#000" stroke-width="1.1"/>
<text x="40.45" y="220.65" class="tk" text-anchor="end" textLength="11.8" lengthAdjust="spacingAndGlyphs">50</text>
<rect x="158.4" y="294.3" width="81.3" height="43.6" rx="1.2" fill="#fff" fill-opacity="0.85" stroke="#c4c4c4" stroke-width="1.15"/>
<line x1="162.2" y1="301.4" x2="182.4" y2="301.4" stroke="#ff0000" stroke-width="1.2"/>
<text x="189.9" y="305" class="lg" textLength="38.5" lengthAdjust="spacingAndGlyphs">ATPDraw</text>
<line x1="162.2" y1="315.15" x2="182.4" y2="315.15" stroke="#0000ff" stroke-width="1.2"/>
<text x="189.9" y="318.75" class="lg" textLength="33.3" lengthAdjust="spacingAndGlyphs">Simulink</text>
<line x1="162.2" y1="328.9" x2="182.4" y2="328.9" stroke="#0ad20a" stroke-width="1.2"/>
<text x="189.9" y="332.5" class="lg" textLength="39" lengthAdjust="spacingAndGlyphs">OPAL-RT</text>
<text x="146.4" y="377.65" class="lb" text-anchor="middle"><tspan font-style="italic">t</tspan> [s]</text>
<text x="146.8" y="209.15" class="tt" text-anchor="middle"><tspan font-size="19">(</tspan>c<tspan font-size="19">)</tspan></text>
<text transform="translate(13.2 280.55) rotate(-90)" class="lb" text-anchor="middle"><tspan font-style="italic" font-size="12.8">T</tspan><tspan font-style="italic" font-size="8" dy="2.2">φ</tspan><tspan dy="-2.2"> [</tspan><tspan font-style="italic">μ</tspan><tspan>s]</tspan></text>
<clipPath id="c11"><rect x="350.75" y="216.05" width="193.3" height="126.6"/></clipPath>
<line x1="372.23" y1="216.05" x2="372.23" y2="342.65" stroke="#dedede" stroke-width="1"/>
<line x1="425.92" y1="216.05" x2="425.92" y2="342.65" stroke="#dedede" stroke-width="1"/>
<line x1="479.62" y1="216.05" x2="479.62" y2="342.65" stroke="#dedede" stroke-width="1"/>
<line x1="533.31" y1="216.05" x2="533.31" y2="342.65" stroke="#dedede" stroke-width="1"/>
<line x1="350.75" y1="342.65" x2="544.05" y2="342.65" stroke="#dedede" stroke-width="1"/>
<line x1="350.75" y1="321.55" x2="544.05" y2="321.55" stroke="#dedede" stroke-width="1"/>
<line x1="350.75" y1="300.45" x2="544.05" y2="300.45" stroke="#dedede" stroke-width="1"/>
<line x1="350.75" y1="279.35" x2="544.05" y2="279.35" stroke="#dedede" stroke-width="1"/>
<line x1="350.75" y1="258.25" x2="544.05" y2="258.25" stroke="#dedede" stroke-width="1"/>
<line x1="350.75" y1="237.15" x2="544.05" y2="237.15" stroke="#dedede" stroke-width="1"/>
<line x1="350.75" y1="216.05" x2="544.05" y2="216.05" stroke="#dedede" stroke-width="1"/>
<path d="M350.75 267.82 L351.25 268.57 L351.75 267.88 L352.25 268.67 L352.75 267.88 L353.25 268.56 L353.75 268.04 L354.25 268.59 L354.75 267.81 L355.25 268.63 L355.75 267.9 L356.25 268.8 L356.75 267.87 L357.25 268.6 L357.75 267.94 L358.25 268.58 L358.75 267.98 L359.25 268.63 L359.75 268.05 L360.25 268.76 L360.75 267.83 L361.25 268.68 L361.75 267.89 L362.25 268.7 L362.75 267.88 L363.25 268.8 L363.75 267.91 L364.25 268.59 L364.75 267.88 L365.25 268.72 L365.75 267.84 L366.25 268.72 L366.75 267.97 L367.25 268.56 L367.75 267.94 L368.25 268.71 L368.75 267.87 L369.25 268.72 L369.75 267.9 L370.25 268.7 L370.75 267.99 L371.25 268.65 L371.75 267.95 L372.25 268.56 L372.75 267.81 L373.25 268.57 L373.75 267.81 L374.25 268.75 L374.75 267.99 L375.25 268.64 L375.75 267.99 L376.25 268.7 L376.75 268.04 L377.25 268.66 L377.75 267.86 L378.25 268.66 L378.75 267.89 L379.25 268.66 L379.75 267.89 L380.25 268.77 L380.75 267.88 L381.25 268.77 L381.75 267.84 L382.25 268.68 L382.75 267.95 L383.25 268.72 L383.75 267.88 L384.25 268.63 L384.75 267.89 L385.25 268.65 L385.75 267.81 L386.25 268.61 L386.75 267.95 L387.25 268.76 L387.75 267.93 L388.25 268.62 L388.75 267.99 L389.25 268.73 L389.75 267.88 L390.25 268.63 L390.75 267.97 L391.25 268.68 L391.75 267.83 L392.25 268.71 L392.75 268.04 L393.25 268.71 L393.75 267.81 L394.25 268.65 L394.75 267.83 L395.25 268.78 L395.75 267.99 L396.25 268.64 L396.75 267.99 L397.25 268.67 L397.75 267.88 L398.25 268.74 L398.75 268.03 L399.25 268.78 L399.75 268.03 L400.25 268.78 L400.75 267.93 L401.25 268.57 L401.75 268.05 L402.25 268.58 L402.75 268.05 L403.25 268.79 L403.75 267.9 L404.25 268.61 L404.75 268.03 L405.25 268.69 L405.75 267.95 L406.25 268.59 L406.75 267.98 L407.25 268.74 L407.75 268.04 L408.25 268.75 L408.75 267.82 L409.25 268.77 L409.75 268.02 L410.25 268.75 L410.75 267.88 L411.25 268.56 L411.75 268.01 L412.25 268.65 L412.75 267.94 L413.25 268.72 L413.75 267.89 L414.25 268.7 L414.75 267.99 L415.25 268.79 L415.75 267.83 L416.25 268.62 L416.75 267.82 L417.25 268.75 L417.75 267.97 L418.25 268.76 L418.75 267.89 L419.25 268.7 L419.75 267.96 L420.25 268.56 L420.75 267.82 L421.25 268.78 L421.75 267.91 L422.25 268.71 L422.75 267.85 L423.25 268.55 L423.75 267.99 L424.25 268.57 L424.75 267.81 L425.25 268.67 L425.75 267.95 L426.25 268.75 L426.75 267.93 L427.25 268.68 L427.75 267.81 L428.25 268.7 L428.75 267.95 L429.25 268.65 L429.75 267.89 L430.25 268.65 L430.75 267.92 L431.25 268.71 L431.75 267.95 L432.25 268.73 L432.75 267.8 L433.25 268.79 L433.75 268.03 L434.25 268.74 L434.75 267.95 L435.25 268.69 L435.75 268.03 L436.25 268.79 L436.75 267.84 L437.25 268.78 L437.75 268.02 L438.25 268.64 L438.75 267.93 L439.25 268.67 L439.75 267.84 L440.25 268.71 L440.75 267.83 L441.25 268.56 L441.75 267.99 L442.25 268.59 L442.75 267.83 L443.25 268.76 L443.75 267.88 L444.25 268.6 L444.75 267.87 L445.25 268.7 L445.75 267.87 L446.25 268.66 L446.75 267.88 L447.25 268.79 L447.75 267.8 L448.25 268.78 L448.75 268.04 L449.25 268.73 L449.75 268.01 L450.25 268.62 L450.75 267.92 L451.25 268.76 L451.75 267.83 L452.25 268.65 L452.75 267.83 L453.25 268.67 L453.75 268.05 L454.25 268.75 L454.75 267.93 L455.25 268.62 L455.75 268.01 L456.25 268.68 L456.75 267.88 L457.25 268.8 L457.75 267.83 L458.25 268.72 L458.75 267.9 L459.25 268.59 L459.75 267.87 L460.25 268.61 L460.75 267.93 L461.25 268.78 L461.75 267.88 L462.25 268.62 L462.75 267.87 L463.25 268.64 L463.75 267.85 L464.25 268.64 L464.75 267.88 L465.25 268.65 L465.75 268.03 L466.25 268.55 L466.75 267.99 L467.25 268.78 L467.75 267.92 L468.25 268.75 L468.75 267.93 L469.25 268.74 L469.75 267.83 L470.25 268.8 L470.75 267.88 L471.25 268.65 L471.75 267.94 L472.25 268.62 L472.75 267.82 L473.25 268.76 L473.75 267.86 L474.25 268.61 L474.75 268.04 L475.25 268.69 L475.75 268 L476.25 268.72 L476.75 268.03 L477.25 268.65 L477.75 267.87 L478.25 268.66 L478.75 267.9 L479.25 268.63 L479.75 267.94 L480.25 268.38 L480.3 268.3 L480.6 269.5 L480.75 272.31 L481 277 L481.25 278.25 L481.4 279 L481.75 297.37 L481.8 300 L482.25 322.95 L482.4 330.6 L482.75 329.02 L483.2 327 L483.25 326.81 L483.75 324.88 L484.25 322.96 L484.5 322 L484.75 321.95 L485.25 321.94 L485.75 321.48 L486.25 321.94 L486.75 321.3 L487.25 321.77 L487.75 321.09 L488.25 321.62 L488.75 320.77 L489.25 321.47 L489.75 320.77 L490 321.29 L490.25 320.52 L490.75 321.34 L491.25 320.54 L491.75 321.31 L492.25 320.66 L492.75 321.43 L493.25 320.67 L493.75 321.45 L494.25 320.57 L494.75 321.24 L495.25 320.55 L495.75 321.36 L496.25 320.61 L496.75 321.37 L497.25 320.67 L497.75 321.34 L498.25 320.45 L498.75 321.19 L499.25 320.51 L499.75 321.3 L500.25 320.45 L500.75 321.23 L501.25 320.66 L501.75 321.17 L502.25 320.55 L502.75 321.2 L503.25 320.51 L503.75 321.25 L504.25 320.57 L504.75 321.34 L505.25 320.62 L505.75 321.14 L506.25 320.57 L506.75 321.18 L507.25 320.54 L507.75 321.2 L508.25 320.6 L508.75 321.19 L509.25 320.43 L509.75 321.11 L510.25 320.55 L510.75 321.17 L511.25 320.41 L511.75 321.17 L512.25 320.48 L512.75 321.15 L513.25 320.49 L513.75 321.31 L514.25 320.33 L514.75 321.25 L515.25 320.47 L515.75 321.12 L516.25 320.48 L516.75 321.11 L517.25 320.47 L517.75 321.05 L518.25 320.39 L518.75 321.17 L519.25 320.35 L519.75 321.05 L520.25 320.45 L520.75 321.14 L521.25 320.48 L521.75 321.19 L522.25 320.27 L522.75 321.09 L523.25 320.43 L523.75 321.01 L524.25 320.48 L524.75 321.19 L525.25 320.31 L525.75 321.18 L526.25 320.37 L526.75 321.22 L527.25 320.26 L527.75 321.03 L528.25 320.39 L528.75 321.07 L529.25 320.36 L529.75 321.09 L530.25 320.32 L530.75 320.95 L531.25 320.28 L531.75 321.02 L532.25 320.31 L532.75 320.97 L533.25 320.21 L533.75 320.95 L534.25 320.35 L534.75 320.94 L535.25 320.31 L535.75 321.14 L536.25 320.41 L536.75 321.09 L537.25 320.38 L537.75 321 L538.25 320.38 L538.75 321.03 L539.25 320.23 L539.75 321.09 L540.25 320.35 L540.75 320.98 L541.25 320.3 L541.75 320.98 L542.25 320.26 L542.75 320.91 L543.25 320.18 L543.75 321.1 L544.25 320.28 L544.75 320.96 L545 320.13" fill="none" stroke="#ff0000" stroke-width="1.5" stroke-linejoin="round" stroke-linecap="butt" clip-path="url(#c11)"/>
<path d="M350.75 267.08 L351.25 268.59 L351.75 267.34 L352.25 267.15 L352.75 265.47 L353.25 266.17 L353.75 264.35 L354.25 266.11 L354.75 266.61 L355.25 268 L355.75 267.77 L356.25 267.59 L356.75 265.47 L357.25 266.44 L357.75 265.1 L358.25 265.6 L358.75 264.38 L359.25 266.71 L359.75 266.52 L360.25 267.66 L360.75 267.74 L361.25 268.31 L361.75 266.84 L362.25 267.07 L362.75 264.66 L363.25 265.9 L363.75 265.74 L364.25 267.48 L364.75 267.51 L365.25 268.85 L365.75 267.69 L366.25 268.14 L366.75 266.06 L367.25 266.35 L367.75 264.62 L368.25 265.48 L368.75 266.05 L369.25 267.63 L369.75 267.12 L370.25 268 L370.75 267.32 L371.25 267.84 L371.75 266.06 L372.25 265.97 L372.75 264.73 L373.25 265.64 L373.75 265.28 L374.25 267.04 L374.75 267.07 L375.25 268.57 L375.75 267.92 L376.25 267.75 L376.75 266.08 L377.25 266.11 L377.75 264.74 L378.25 265.57 L378.75 265.25 L379.25 267.57 L379.75 267.29 L380.25 268.14 L380.75 267.26 L381.25 266.74 L381.75 265.24 L382.25 266.12 L382.75 265.75 L383.25 267.19 L383.75 267.15 L384.25 268.41 L384.75 267.3 L385.25 268.15 L385.75 266.36 L386.25 266.43 L386.75 264.7 L387.25 265.24 L387.75 265.95 L388.25 266.46 L388.75 266.94 L389.25 268.17 L389.75 267.72 L390.25 268.95 L390.75 266.56 L391.25 266.49 L391.75 264.88 L392.25 265.8 L392.75 265.78 L393.25 267.21 L393.75 267.4 L394.25 268.15 L394.75 267.46 L395.25 267.33 L395.75 265.94 L396.25 265.86 L396.75 265.06 L397.25 266.44 L397.75 266.17 L398.25 268.6 L398.75 267.23 L399.25 268.06 L399.75 266.61 L400.25 265.75 L400.75 264.31 L401.25 266.19 L401.75 266.76 L402.25 268.22 L402.75 267.6 L403.25 267.6 L403.75 266.1 L404.25 265.69 L404.75 264.66 L405.25 265.58 L405.75 265.22 L406.25 266.62 L406.75 266.55 L407.25 267.94 L407.75 267.85 L408.25 268.52 L408.75 266.97 L409.25 265.83 L409.75 265.02 L410.25 265.22 L410.75 265.2 L411.25 266.57 L411.75 267.09 L412.25 268.41 L412.75 267.44 L413.25 268.18 L413.75 266.62 L414.25 266.52 L414.75 264.78 L415.25 265.92 L415.75 265.67 L416.25 267.9 L416.75 267.81 L417.25 268.73 L417.75 267.3 L418.25 267.3 L418.75 265.43 L419.25 265.03 L419.75 264.59 L420.25 266.62 L420.75 266.17 L421.25 267.09 L421.75 267.71 L422.25 267.83 L422.75 266.78 L423.25 266.67 L423.75 265.19 L424.25 265.05 L424.75 265.74 L425.25 266.77 L425.75 266.81 L426.25 267.9 L426.75 267.57 L427.25 268.26 L427.75 266.64 L428.25 266.64 L428.75 264.42 L429.25 266.31 L429.75 265.4 L430.25 267.09 L430.75 267.18 L431.25 268.54 L431.75 267.16 L432.25 267.34 L432.75 265.46 L433.25 266.15 L433.75 264.41 L434.25 265.71 L434.75 265.41 L435.25 266.91 L435.75 267.23 L436.25 268.7 L436.75 267.17 L437.25 268.05 L437.75 265.83 L438.25 265.25 L438.75 264.83 L439.25 267.08 L439.75 266.75 L440.25 268.62 L440.75 267.48 L441.25 267.99 L441.75 267.35 L442.25 267.57 L442.75 265.62 L443.25 265.55 L443.75 265.18 L444.25 266.12 L444.75 267.41 L445.25 267.65 L445.75 267.45 L446.25 267.12 L446.75 265.39 L447.25 265.15 L447.75 264.77 L448.25 266.25 L448.75 266.83 L449.25 267.63 L449.75 267.71 L450.25 267.46 L450.75 265.82 L451.25 266.05 L451.75 264.53 L452.25 265.87 L452.75 265.76 L453.25 268.31 L453.75 267.67 L454.25 267.51 L454.75 266.37 L455.25 266.66 L455.75 265.16 L456.25 266.02 L456.75 265.19 L457.25 266.96 L457.75 267.17 L458.25 268.76 L458.75 266.77 L459.25 267.48 L459.75 266.3 L460.25 266.2 L460.75 264.48 L461.25 266.06 L461.75 266.03 L462.25 266.96 L462.75 267.67 L463.25 269.05 L463.75 266.4 L464.25 267.39 L464.75 265.82 L465.25 265.59 L465.75 265.27 L466.25 266.11 L466.75 266.01 L467.25 267.99 L467.75 267.41 L468.25 268.12 L468.75 267.12 L469.25 267.31 L469.75 265.02 L470.25 265.18 L470.75 264.98 L471.25 265.87 L471.75 265.95 L472.25 267.56 L472.75 267.75 L473.25 267.82 L473.75 265.93 L474.25 266.12 L474.75 265.41 L475.25 266.67 L475.75 266.38 L476.25 268.34 L476.75 266.98 L477.25 267.59 L477.75 266.63 L478.25 266.57 L478.75 264.78 L479.25 265.09 L479.75 265.67 L480.25 267.16 L480.75 267.26 L481.25 268.06 L481.75 266.92 L482.25 266.71 L482.75 265.26 L483.25 265.45 L483.3 266.27 L483.75 296.34 L483.8 299.98 L484.25 317.35 L484.7 334.36 L484.75 334.24 L485.25 328.11 L485.5 324.65 L485.75 322.45 L486.25 316.84 L486.3 315.4 L486.75 316.76 L487.25 314.9 L487.75 316.3 L488.25 314.53 L488.75 316.15 L489.25 314.41 L489.75 315.49 L490 314.2 L490.25 315.58 L490.75 314.13 L491.25 315.32 L491.75 314.37 L492.25 315.47 L492.75 313.94 L493.25 315.68 L493.75 313.89 L494.25 315.97 L494.75 314.05 L495.25 315.35 L495.75 313.94 L496.25 315.86 L496.75 313.58 L497.25 315.39 L497.75 314.04 L498.25 315.09 L498.75 314.13 L499.25 315.55 L499.75 313.62 L500.25 315.06 L500.75 314.04 L501.25 314.9 L501.75 313.5 L502.25 315.68 L502.75 313.56 L503.25 315.27 L503.75 313.94 L504.25 315.65 L504.75 314.15 L505 315.41 L505.25 313.98 L505.75 315.84 L506.25 315.18 L506.75 316.85 L507.25 315.6 L507.75 318.42 L508 316.75 L508.25 318.7 L508.75 316.96 L509.25 318.31 L509.75 317.09 L510.25 318.92 L510.75 316.55 L511.25 318.64 L511.75 316.97 L512.25 318.27 L512.75 316.55 L513.25 318.94 L513.75 317.34 L514.25 318.32 L514.75 317.37 L515.25 319.1 L515.75 317.45 L516.25 319.24 L516.75 317.67 L517.25 319.24 L517.75 317.73 L518.25 319.29 L518.75 317.03 L519.25 319.38 L519.75 317.49 L520 319.25 L520.25 317.61 L520.75 319.29 L521.25 318.39 L521.75 320.05 L522.25 318.36 L522.75 319.56 L523.25 319.01 L523.75 319.79 L524.25 318.48 L524.75 320.07 L525.25 318.98 L525.75 320.72 L526.25 319.27 L526.75 320.69 L527.25 319.59 L527.75 320.55 L528.25 319.57 L528.75 321.52 L529.25 319.72 L529.75 321.21 L530 319.68 L530.25 321.32 L530.75 319.49 L531.25 321.66 L531.75 319.85 L532.25 321.78 L532.75 319.86 L533.25 321.56 L533.75 320.11 L534.25 322 L534.75 319.87 L535.25 321.17 L535.75 320.43 L536.25 321.91 L536.75 320.76 L537.25 321.79 L537.75 320.12 L538.25 322.2 L538.75 320.55 L539.25 322.17 L539.75 320.4 L540.25 322.22 L540.75 320.83 L541.25 321.92 L541.75 320.44 L542.25 322.29 L542.75 320.53 L543.25 321.93 L543.75 321.43 L544.25 322.76 L544.75 321.21 L545 322.09" fill="none" stroke="#0000ff" stroke-width="1.5" stroke-linejoin="round" stroke-linecap="butt" clip-path="url(#c11)"/>
<path d="M350.75 265.55 L352.16 269.46 L353.59 265.33 L355.17 272.05 L356.54 265.03 L357.48 272.43 L358.4 266.41 L360.02 272.92 L361.31 265.44 L362.27 269.53 L364.01 265.45 L365.1 272.17 L366.72 266.56 L368.35 272.3 L369.74 266.25 L371.27 270.38 L372.63 266.2 L374.22 274.14 L375.61 266.05 L377.11 269.16 L378.08 265.18 L379.1 269.85 L380.16 265.45 L381.24 269.72 L382.91 266.25 L384.22 270.8 L385.77 265.51 L387.03 270.13 L388.55 264.82 L389.85 272.95 L390.77 266.09 L391.8 271.94 L393.08 265.67 L394.2 270.09 L395.3 265.39 L397.04 273.7 L398.55 266.1 L400.25 272.99 L401.95 265.83 L402.87 270.33 L404.11 264.87 L405.03 270.5 L406.04 264.82 L407.58 273.04 L408.81 265.9 L410.29 272.31 L411.35 266.89 L412.65 272.83 L414.14 266.72 L415.33 270.21 L417.07 265.27 L418.15 272.99 L419.58 265.43 L421.29 273.68 L423.01 265.54 L423.95 270.17 L425.7 266.67 L427.01 269.37 L428.5 266.44 L429.87 271.6 L431.17 265.24 L432.88 271.55 L434.05 265.59 L435.19 269.59 L436.26 264.9 L437.89 273.18 L439.25 265.17 L440.9 270.49 L442.08 266.34 L443.45 270.39 L444.67 265.97 L446.33 273.97 L447.49 266.36 L448.55 270 L449.5 265.44 L450.97 269.6 L452.73 265.48 L453.79 270.68 L455.34 265 L456.52 269.06 L457.67 265.69 L458.72 270.47 L460.28 265.26 L461.96 269.9 L463.04 264.56 L464.46 273.05 L465.38 266.41 L467.07 270.53 L468.58 266.55 L469.68 270.28 L471.07 265.62 L472.6 272.01 L473.82 266.73 L475.18 272.41 L476.4 266.82 L477.35 273.83 L479.2 290 L480 332.5 L481 327 L481.8 310 L482.8 328.22 L483.85 318.57 L485.22 321.65 L486.43 317.93 L487.74 320.57 L489.16 317.93 L490.13 328.46 L491.08 312.28 L492.36 327.54 L493.27 318.43 L494.18 320.9 L495.44 313.99 L496.57 320.54 L497.76 319.27 L499.02 320.89 L500.12 319.05 L501.05 321.1 L502.5 312.38 L503.5 320.6 L504.6 313.98 L506.09 324.43 L507.39 312.76 L508.45 325.3 L509.67 317.9 L511.07 328.7 L512.31 319.08 L513.47 328.67 L514.49 313.44 L515.67 326.74 L517.12 318.2 L518.44 326.72 L519.93 313.99 L521.24 327.47 L522.46 314.82 L523.59 321.02 L524.68 318.81 L525.9 321.11 L527.14 317.85 L528.59 320.34 L529.7 318.03 L530.63 324.75 L532.07 311.87 L533.1 327.25 L534.39 317.85 L535.6 328.59 L536.96 312.64 L537.88 325.54 L538.95 318.54 L539.98 326.52 L541.26 318.71 L542.6 321.59 L543.89 318.22 L544.86 328.23 L545.92 318.34" fill="none" stroke="#0ad20a" stroke-width="1.3" stroke-linejoin="round" stroke-linecap="butt" clip-path="url(#c11)"/>
<rect x="350.75" y="216.05" width="193.3" height="126.6" fill="none" stroke="#000" stroke-width="1.4"/>
<line x1="372.23" y1="342.65" x2="372.23" y2="347.05" stroke="#000" stroke-width="1.1"/>
<text x="371.23" y="359.95" class="tk" text-anchor="middle" textLength="26" lengthAdjust="spacingAndGlyphs">1.950</text>
<line x1="425.92" y1="342.65" x2="425.92" y2="347.05" stroke="#000" stroke-width="1.1"/>
<text x="424.92" y="359.95" class="tk" text-anchor="middle" textLength="26" lengthAdjust="spacingAndGlyphs">1.975</text>
<line x1="479.62" y1="342.65" x2="479.62" y2="347.05" stroke="#000" stroke-width="1.1"/>
<text x="478.62" y="359.95" class="tk" text-anchor="middle" textLength="26" lengthAdjust="spacingAndGlyphs">2.000</text>
<line x1="533.31" y1="342.65" x2="533.31" y2="347.05" stroke="#000" stroke-width="1.1"/>
<text x="532.31" y="359.95" class="tk" text-anchor="middle" textLength="26" lengthAdjust="spacingAndGlyphs">2.025</text>
<line x1="346.15" y1="342.65" x2="350.75" y2="342.65" stroke="#000" stroke-width="1.1"/>
<text x="340.45" y="347.25" class="tk" text-anchor="end" textLength="20.2" lengthAdjust="spacingAndGlyphs">−10</text>
<line x1="346.15" y1="321.55" x2="350.75" y2="321.55" stroke="#000" stroke-width="1.1"/>
<text x="340.45" y="326.15" class="tk" text-anchor="end" textLength="6" lengthAdjust="spacingAndGlyphs">0</text>
<line x1="346.15" y1="300.45" x2="350.75" y2="300.45" stroke="#000" stroke-width="1.1"/>
<text x="340.45" y="305.05" class="tk" text-anchor="end" textLength="11.8" lengthAdjust="spacingAndGlyphs">10</text>
<line x1="346.15" y1="279.35" x2="350.75" y2="279.35" stroke="#000" stroke-width="1.1"/>
<text x="340.45" y="283.95" class="tk" text-anchor="end" textLength="11.8" lengthAdjust="spacingAndGlyphs">20</text>
<line x1="346.15" y1="258.25" x2="350.75" y2="258.25" stroke="#000" stroke-width="1.1"/>
<text x="340.45" y="262.85" class="tk" text-anchor="end" textLength="11.8" lengthAdjust="spacingAndGlyphs">30</text>
<line x1="346.15" y1="237.15" x2="350.75" y2="237.15" stroke="#000" stroke-width="1.1"/>
<text x="340.45" y="241.75" class="tk" text-anchor="end" textLength="11.8" lengthAdjust="spacingAndGlyphs">40</text>
<line x1="346.15" y1="216.05" x2="350.75" y2="216.05" stroke="#000" stroke-width="1.1"/>
<text x="340.45" y="220.65" class="tk" text-anchor="end" textLength="11.8" lengthAdjust="spacingAndGlyphs">50</text>
<rect x="355" y="294.3" width="81.3" height="43.6" rx="1.2" fill="#fff" fill-opacity="0.85" stroke="#c4c4c4" stroke-width="1.15"/>
<line x1="358.8" y1="301.4" x2="379" y2="301.4" stroke="#ff0000" stroke-width="1.2"/>
<text x="386.5" y="305" class="lg" textLength="38.5" lengthAdjust="spacingAndGlyphs">ATPDraw</text>
<line x1="358.8" y1="315.15" x2="379" y2="315.15" stroke="#0000ff" stroke-width="1.2"/>
<text x="386.5" y="318.75" class="lg" textLength="33.3" lengthAdjust="spacingAndGlyphs">Simulink</text>
<line x1="358.8" y1="328.9" x2="379" y2="328.9" stroke="#0ad20a" stroke-width="1.2"/>
<text x="386.5" y="332.5" class="lg" textLength="39" lengthAdjust="spacingAndGlyphs">OPAL-RT</text>
<text x="446.4" y="377.65" class="lb" text-anchor="middle"><tspan font-style="italic">t</tspan> [s]</text>
<text x="446.8" y="209.15" class="tt" text-anchor="middle"><tspan font-size="19">(</tspan>d<tspan font-size="19">)</tspan></text>
<text transform="translate(313.2 280.55) rotate(-90)" class="lb" text-anchor="middle"><tspan font-style="italic" font-size="12.8">T</tspan><tspan font-style="italic" font-size="8" dy="2.2">φ</tspan><tspan dy="-2.2"> [</tspan><tspan font-style="italic">μ</tspan><tspan>s]</tspan></text>
</svg>
</body></html>
